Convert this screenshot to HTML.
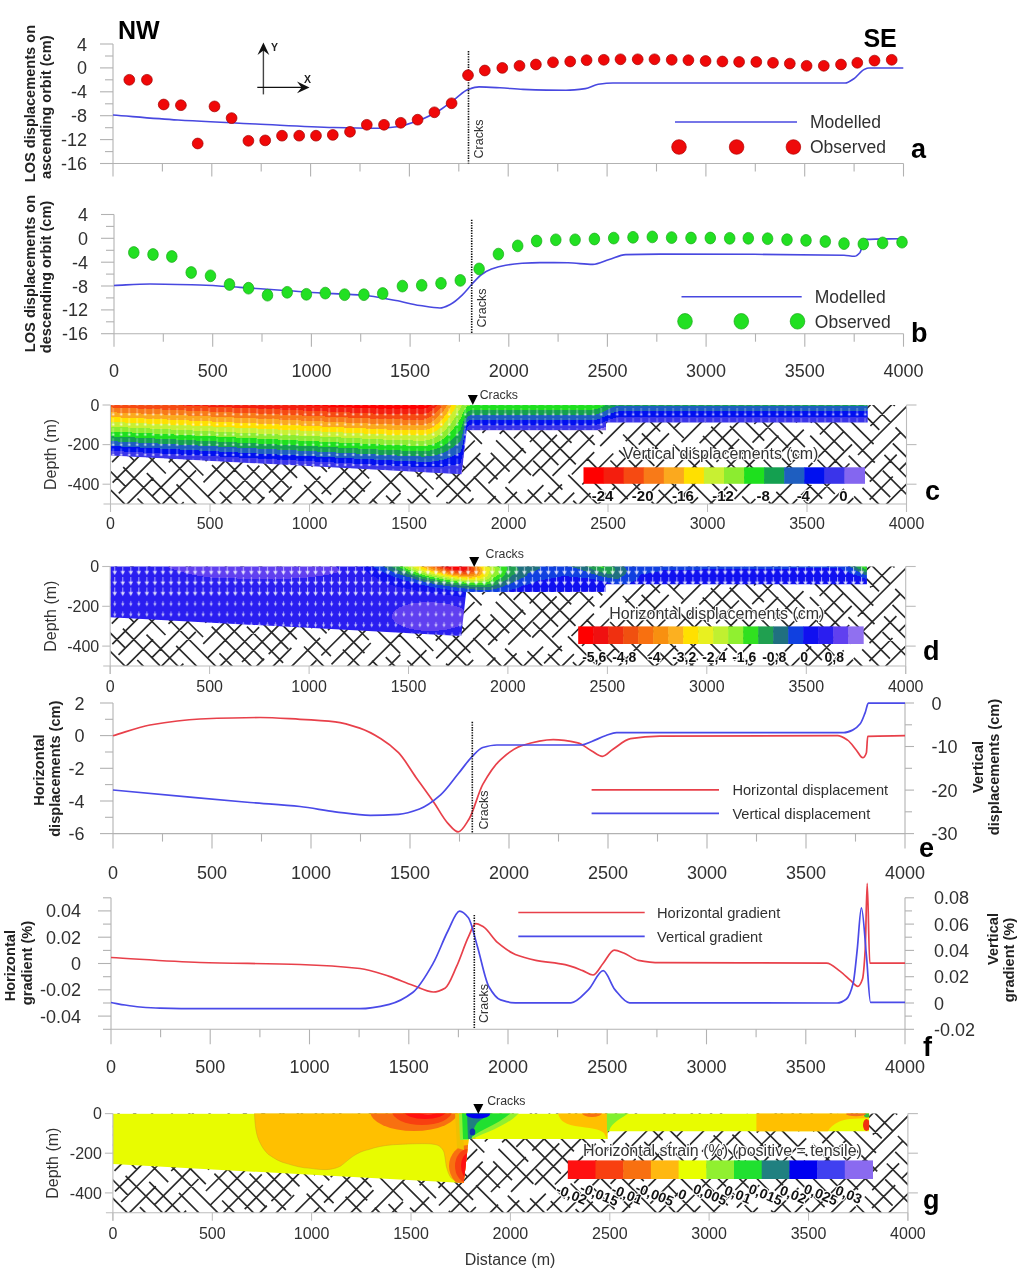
<!DOCTYPE html>
<html><head><meta charset="utf-8"><style>
html,body{margin:0;padding:0;background:#fff;}
svg{display:block;font-family:"Liberation Sans",sans-serif;filter:blur(0.4px);}
</style></head><body>
<svg width="1024" height="1278" viewBox="0 0 1024 1278">
<rect width="1024" height="1278" fill="#fff"/>
<line x1="113" y1="44" x2="113" y2="163.5" stroke="#b2b2b2" stroke-width="1.1" />
<line x1="100" y1="44" x2="113" y2="44" stroke="#b2b2b2" stroke-width="1.1" />
<text x="87" y="50.5" font-size="18" text-anchor="end" font-weight="normal" fill="#303030" >4</text>
<line x1="105" y1="56" x2="113" y2="56" stroke="#b2b2b2" stroke-width="1.1" />
<line x1="100" y1="67.9" x2="113" y2="67.9" stroke="#b2b2b2" stroke-width="1.1" />
<text x="87" y="74.4" font-size="18" text-anchor="end" font-weight="normal" fill="#303030" >0</text>
<line x1="105" y1="79.8" x2="113" y2="79.8" stroke="#b2b2b2" stroke-width="1.1" />
<line x1="100" y1="91.8" x2="113" y2="91.8" stroke="#b2b2b2" stroke-width="1.1" />
<text x="87" y="98.3" font-size="18" text-anchor="end" font-weight="normal" fill="#303030" >-4</text>
<line x1="105" y1="103.8" x2="113" y2="103.8" stroke="#b2b2b2" stroke-width="1.1" />
<line x1="100" y1="115.7" x2="113" y2="115.7" stroke="#b2b2b2" stroke-width="1.1" />
<text x="87" y="122.2" font-size="18" text-anchor="end" font-weight="normal" fill="#303030" >-8</text>
<line x1="105" y1="127.7" x2="113" y2="127.7" stroke="#b2b2b2" stroke-width="1.1" />
<line x1="100" y1="139.6" x2="113" y2="139.6" stroke="#b2b2b2" stroke-width="1.1" />
<text x="87" y="146.1" font-size="18" text-anchor="end" font-weight="normal" fill="#303030" >-12</text>
<line x1="105" y1="151.6" x2="113" y2="151.6" stroke="#b2b2b2" stroke-width="1.1" />
<line x1="100" y1="163.5" x2="113" y2="163.5" stroke="#b2b2b2" stroke-width="1.1" />
<text x="87" y="170" font-size="18" text-anchor="end" font-weight="normal" fill="#303030" >-16</text>
<line x1="113" y1="163.5" x2="903.5" y2="163.5" stroke="#b2b2b2" stroke-width="1.1" />
<line x1="113" y1="163.5" x2="113" y2="176.5" stroke="#b2b2b2" stroke-width="1.1" />
<line x1="162.4" y1="163.5" x2="162.4" y2="171.5" stroke="#b2b2b2" stroke-width="1.1" />
<line x1="211.8" y1="163.5" x2="211.8" y2="176.5" stroke="#b2b2b2" stroke-width="1.1" />
<line x1="261.2" y1="163.5" x2="261.2" y2="171.5" stroke="#b2b2b2" stroke-width="1.1" />
<line x1="310.6" y1="163.5" x2="310.6" y2="176.5" stroke="#b2b2b2" stroke-width="1.1" />
<line x1="360" y1="163.5" x2="360" y2="171.5" stroke="#b2b2b2" stroke-width="1.1" />
<line x1="409.4" y1="163.5" x2="409.4" y2="176.5" stroke="#b2b2b2" stroke-width="1.1" />
<line x1="458.8" y1="163.5" x2="458.8" y2="171.5" stroke="#b2b2b2" stroke-width="1.1" />
<line x1="508.2" y1="163.5" x2="508.2" y2="176.5" stroke="#b2b2b2" stroke-width="1.1" />
<line x1="557.7" y1="163.5" x2="557.7" y2="171.5" stroke="#b2b2b2" stroke-width="1.1" />
<line x1="607.1" y1="163.5" x2="607.1" y2="176.5" stroke="#b2b2b2" stroke-width="1.1" />
<line x1="656.5" y1="163.5" x2="656.5" y2="171.5" stroke="#b2b2b2" stroke-width="1.1" />
<line x1="705.9" y1="163.5" x2="705.9" y2="176.5" stroke="#b2b2b2" stroke-width="1.1" />
<line x1="755.3" y1="163.5" x2="755.3" y2="171.5" stroke="#b2b2b2" stroke-width="1.1" />
<line x1="804.7" y1="163.5" x2="804.7" y2="176.5" stroke="#b2b2b2" stroke-width="1.1" />
<line x1="854.1" y1="163.5" x2="854.1" y2="171.5" stroke="#b2b2b2" stroke-width="1.1" />
<line x1="903.5" y1="163.5" x2="903.5" y2="176.5" stroke="#b2b2b2" stroke-width="1.1" />
<g font-weight="bold" font-size="14.6" fill="#222">
<text transform="translate(35.2 103.6) rotate(-90)" font-size="14.6" font-weight="bold" text-anchor="middle" fill="#222" >LOS displacements on</text>
<text transform="translate(51.2 107.2) rotate(-90)" font-size="14.6" font-weight="bold" text-anchor="middle" fill="#222" >ascending orbit (cm)</text>
</g>
<text x="118" y="39" font-size="25" text-anchor="start" font-weight="bold" fill="#000" >NW</text>
<text x="863.4" y="47" font-size="25" text-anchor="start" font-weight="bold" fill="#000" >SE</text>
<line x1="263.4" y1="46" x2="263.4" y2="94.4" stroke="#444" stroke-width="1.4" />
<line x1="257.3" y1="87.4" x2="305" y2="87.4" stroke="#111" stroke-width="1.4" />
<path d="M257.5 55 L263.4 42.5 L269.3 55 L263.4 50.5 Z" fill="#111"/>
<path d="M297 81.5 L309.5 87.4 L297 93.3 L301.5 87.4 Z" fill="#111"/>
<text x="271" y="51" font-size="10.5" text-anchor="start" font-weight="bold" fill="#222" >Y</text>
<text x="304" y="82.5" font-size="10.5" text-anchor="start" font-weight="bold" fill="#222" >X</text>
<path d="M113 115 C134.7 116.7 156.3 118.7 178 120 C204 121.6 230 122.8 256 124 C282 125.2 308 126.8 334 127.5 C347 127.9 360 128.3 373 128.3 C381 128.3 389 127.6 397 126.7 C404.7 125.9 412.3 122.8 420 120 C426.7 117.5 433.3 114 440 110 C445.2 106.9 450.3 102.4 455.5 98.6 C459.7 95.6 463.8 91.1 468 89.6 C471.7 88.3 475.3 86.9 479 86.9 C486 86.9 493 87.4 500 87.8 C507.7 88.2 515.3 89.1 523 89.4 C537.3 89.9 551.7 90.3 566 90.3 C572.4 90.3 578.9 89.5 585.3 88.6 C589.6 88 593.9 84.9 598.2 84.3 C603.1 83.6 608.1 83 613 83 C690.4 83 767.9 83 845.3 83 C848.2 83 851 80.5 853.9 78.7 C857.5 76.4 861 70.6 864.6 69.2 C866 68.6 867.5 68 868.9 68 C880.4 68 891.8 68 903.3 68" fill="none" stroke="#4848e0" stroke-width="1.6" stroke-linejoin="round"/>
<line x1="468.5" y1="51" x2="468.5" y2="163.5" stroke="#111" stroke-width="1.6" stroke-dasharray="1.4 1.2"/>
<text transform="translate(482.5 139) rotate(-90)" font-size="12.5" font-weight="normal" text-anchor="middle" fill="#333" >Cracks</text>
<circle cx="129.3" cy="79.8" r="5.4" fill="#f00808" stroke="#a00000" stroke-width="0.7"/>
<circle cx="146.9" cy="79.8" r="5.4" fill="#f00808" stroke="#a00000" stroke-width="0.7"/>
<circle cx="163.7" cy="104.5" r="5.4" fill="#f00808" stroke="#a00000" stroke-width="0.7"/>
<circle cx="180.9" cy="105.2" r="5.4" fill="#f00808" stroke="#a00000" stroke-width="0.7"/>
<circle cx="197.7" cy="143.5" r="5.4" fill="#f00808" stroke="#a00000" stroke-width="0.7"/>
<circle cx="214.5" cy="106.4" r="5.4" fill="#f00808" stroke="#a00000" stroke-width="0.7"/>
<circle cx="231.6" cy="118.1" r="5.4" fill="#f00808" stroke="#a00000" stroke-width="0.7"/>
<circle cx="248.4" cy="140.8" r="5.4" fill="#f00808" stroke="#a00000" stroke-width="0.7"/>
<circle cx="265.2" cy="140.4" r="5.4" fill="#f00808" stroke="#a00000" stroke-width="0.7"/>
<circle cx="282" cy="135.7" r="5.4" fill="#f00808" stroke="#a00000" stroke-width="0.7"/>
<circle cx="299.2" cy="135.7" r="5.4" fill="#f00808" stroke="#a00000" stroke-width="0.7"/>
<circle cx="316" cy="135.7" r="5.4" fill="#f00808" stroke="#a00000" stroke-width="0.7"/>
<circle cx="332.8" cy="134.9" r="5.4" fill="#f00808" stroke="#a00000" stroke-width="0.7"/>
<circle cx="350" cy="131.8" r="5.4" fill="#f00808" stroke="#a00000" stroke-width="0.7"/>
<circle cx="366.8" cy="124.8" r="5.4" fill="#f00808" stroke="#a00000" stroke-width="0.7"/>
<circle cx="384" cy="124.8" r="5.4" fill="#f00808" stroke="#a00000" stroke-width="0.7"/>
<circle cx="400.8" cy="122.8" r="5.4" fill="#f00808" stroke="#a00000" stroke-width="0.7"/>
<circle cx="417.6" cy="119.7" r="5.4" fill="#f00808" stroke="#a00000" stroke-width="0.7"/>
<circle cx="434.4" cy="112.3" r="5.4" fill="#f00808" stroke="#a00000" stroke-width="0.7"/>
<circle cx="451.6" cy="103.3" r="5.4" fill="#f00808" stroke="#a00000" stroke-width="0.7"/>
<circle cx="468" cy="75.2" r="5.4" fill="#f00808" stroke="#a00000" stroke-width="0.7"/>
<circle cx="484.8" cy="70.5" r="5.4" fill="#f00808" stroke="#a00000" stroke-width="0.7"/>
<circle cx="502.3" cy="67.9" r="5.4" fill="#f00808" stroke="#a00000" stroke-width="0.7"/>
<circle cx="519.5" cy="65.8" r="5.4" fill="#f00808" stroke="#a00000" stroke-width="0.7"/>
<circle cx="535.9" cy="64.5" r="5.4" fill="#f00808" stroke="#a00000" stroke-width="0.7"/>
<circle cx="553" cy="62.3" r="5.4" fill="#f00808" stroke="#a00000" stroke-width="0.7"/>
<circle cx="570.2" cy="61.5" r="5.4" fill="#f00808" stroke="#a00000" stroke-width="0.7"/>
<circle cx="586.6" cy="60.2" r="5.4" fill="#f00808" stroke="#a00000" stroke-width="0.7"/>
<circle cx="603.8" cy="59.8" r="5.4" fill="#f00808" stroke="#a00000" stroke-width="0.7"/>
<circle cx="620.5" cy="59.3" r="5.4" fill="#f00808" stroke="#a00000" stroke-width="0.7"/>
<circle cx="637.7" cy="59.3" r="5.4" fill="#f00808" stroke="#a00000" stroke-width="0.7"/>
<circle cx="654.5" cy="59.3" r="5.4" fill="#f00808" stroke="#a00000" stroke-width="0.7"/>
<circle cx="671.7" cy="59.8" r="5.4" fill="#f00808" stroke="#a00000" stroke-width="0.7"/>
<circle cx="688.4" cy="60.2" r="5.4" fill="#f00808" stroke="#a00000" stroke-width="0.7"/>
<circle cx="705.6" cy="61" r="5.4" fill="#f00808" stroke="#a00000" stroke-width="0.7"/>
<circle cx="722.4" cy="61.5" r="5.4" fill="#f00808" stroke="#a00000" stroke-width="0.7"/>
<circle cx="739.1" cy="61.9" r="5.4" fill="#f00808" stroke="#a00000" stroke-width="0.7"/>
<circle cx="756.3" cy="61.9" r="5.4" fill="#f00808" stroke="#a00000" stroke-width="0.7"/>
<circle cx="773" cy="62.8" r="5.4" fill="#f00808" stroke="#a00000" stroke-width="0.7"/>
<circle cx="789.8" cy="63.6" r="5.4" fill="#f00808" stroke="#a00000" stroke-width="0.7"/>
<circle cx="806.6" cy="65.8" r="5.4" fill="#f00808" stroke="#a00000" stroke-width="0.7"/>
<circle cx="823.8" cy="65.8" r="5.4" fill="#f00808" stroke="#a00000" stroke-width="0.7"/>
<circle cx="841" cy="64.5" r="5.4" fill="#f00808" stroke="#a00000" stroke-width="0.7"/>
<circle cx="857.3" cy="62.8" r="5.4" fill="#f00808" stroke="#a00000" stroke-width="0.7"/>
<circle cx="874.5" cy="60.6" r="5.4" fill="#f00808" stroke="#a00000" stroke-width="0.7"/>
<circle cx="891.7" cy="59.8" r="5.4" fill="#f00808" stroke="#a00000" stroke-width="0.7"/>
<line x1="675" y1="122" x2="797" y2="122" stroke="#4848e0" stroke-width="1.6" />
<text x="810" y="128.3" font-size="17.5" text-anchor="start" font-weight="normal" fill="#303030" >Modelled</text>
<circle cx="679" cy="147" r="7.3" fill="#ee0a0a" stroke="#b00000" stroke-width="0.7"/>
<circle cx="736.6" cy="147" r="7.3" fill="#ee0a0a" stroke="#b00000" stroke-width="0.7"/>
<circle cx="793.4" cy="147" r="7.3" fill="#ee0a0a" stroke="#b00000" stroke-width="0.7"/>
<text x="810" y="153.3" font-size="17.5" text-anchor="start" font-weight="normal" fill="#303030" >Observed</text>
<text x="911" y="157.5" font-size="27" text-anchor="start" font-weight="bold" fill="#000" >a</text>
<line x1="114" y1="214.5" x2="114" y2="333.7" stroke="#b2b2b2" stroke-width="1.1" />
<line x1="101" y1="214.5" x2="114" y2="214.5" stroke="#b2b2b2" stroke-width="1.1" />
<text x="88" y="221" font-size="18" text-anchor="end" font-weight="normal" fill="#303030" >4</text>
<line x1="106" y1="226.4" x2="114" y2="226.4" stroke="#b2b2b2" stroke-width="1.1" />
<line x1="101" y1="238.3" x2="114" y2="238.3" stroke="#b2b2b2" stroke-width="1.1" />
<text x="88" y="244.8" font-size="18" text-anchor="end" font-weight="normal" fill="#303030" >0</text>
<line x1="106" y1="250.3" x2="114" y2="250.3" stroke="#b2b2b2" stroke-width="1.1" />
<line x1="101" y1="262.2" x2="114" y2="262.2" stroke="#b2b2b2" stroke-width="1.1" />
<text x="88" y="268.7" font-size="18" text-anchor="end" font-weight="normal" fill="#303030" >-4</text>
<line x1="106" y1="274.1" x2="114" y2="274.1" stroke="#b2b2b2" stroke-width="1.1" />
<line x1="101" y1="286" x2="114" y2="286" stroke="#b2b2b2" stroke-width="1.1" />
<text x="88" y="292.5" font-size="18" text-anchor="end" font-weight="normal" fill="#303030" >-8</text>
<line x1="106" y1="297.9" x2="114" y2="297.9" stroke="#b2b2b2" stroke-width="1.1" />
<line x1="101" y1="309.9" x2="114" y2="309.9" stroke="#b2b2b2" stroke-width="1.1" />
<text x="88" y="316.4" font-size="18" text-anchor="end" font-weight="normal" fill="#303030" >-12</text>
<line x1="106" y1="321.8" x2="114" y2="321.8" stroke="#b2b2b2" stroke-width="1.1" />
<line x1="101" y1="333.7" x2="114" y2="333.7" stroke="#b2b2b2" stroke-width="1.1" />
<text x="88" y="340.2" font-size="18" text-anchor="end" font-weight="normal" fill="#303030" >-16</text>
<line x1="114" y1="333.7" x2="903.5" y2="333.7" stroke="#b2b2b2" stroke-width="1.1" />
<line x1="114" y1="333.7" x2="114" y2="346.7" stroke="#b2b2b2" stroke-width="1.1" />
<text x="114" y="377" font-size="18" text-anchor="middle" font-weight="normal" fill="#303030" >0</text>
<line x1="163.3" y1="333.7" x2="163.3" y2="341.7" stroke="#b2b2b2" stroke-width="1.1" />
<line x1="212.7" y1="333.7" x2="212.7" y2="346.7" stroke="#b2b2b2" stroke-width="1.1" />
<text x="212.7" y="377" font-size="18" text-anchor="middle" font-weight="normal" fill="#303030" >500</text>
<line x1="262" y1="333.7" x2="262" y2="341.7" stroke="#b2b2b2" stroke-width="1.1" />
<line x1="311.4" y1="333.7" x2="311.4" y2="346.7" stroke="#b2b2b2" stroke-width="1.1" />
<text x="311.4" y="377" font-size="18" text-anchor="middle" font-weight="normal" fill="#303030" >1000</text>
<line x1="360.7" y1="333.7" x2="360.7" y2="341.7" stroke="#b2b2b2" stroke-width="1.1" />
<line x1="410.1" y1="333.7" x2="410.1" y2="346.7" stroke="#b2b2b2" stroke-width="1.1" />
<text x="410.1" y="377" font-size="18" text-anchor="middle" font-weight="normal" fill="#303030" >1500</text>
<line x1="459.4" y1="333.7" x2="459.4" y2="341.7" stroke="#b2b2b2" stroke-width="1.1" />
<line x1="508.8" y1="333.7" x2="508.8" y2="346.7" stroke="#b2b2b2" stroke-width="1.1" />
<text x="508.8" y="377" font-size="18" text-anchor="middle" font-weight="normal" fill="#303030" >2000</text>
<line x1="558.1" y1="333.7" x2="558.1" y2="341.7" stroke="#b2b2b2" stroke-width="1.1" />
<line x1="607.4" y1="333.7" x2="607.4" y2="346.7" stroke="#b2b2b2" stroke-width="1.1" />
<text x="607.4" y="377" font-size="18" text-anchor="middle" font-weight="normal" fill="#303030" >2500</text>
<line x1="656.8" y1="333.7" x2="656.8" y2="341.7" stroke="#b2b2b2" stroke-width="1.1" />
<line x1="706.1" y1="333.7" x2="706.1" y2="346.7" stroke="#b2b2b2" stroke-width="1.1" />
<text x="706.1" y="377" font-size="18" text-anchor="middle" font-weight="normal" fill="#303030" >3000</text>
<line x1="755.5" y1="333.7" x2="755.5" y2="341.7" stroke="#b2b2b2" stroke-width="1.1" />
<line x1="804.8" y1="333.7" x2="804.8" y2="346.7" stroke="#b2b2b2" stroke-width="1.1" />
<text x="804.8" y="377" font-size="18" text-anchor="middle" font-weight="normal" fill="#303030" >3500</text>
<line x1="854.2" y1="333.7" x2="854.2" y2="341.7" stroke="#b2b2b2" stroke-width="1.1" />
<line x1="903.5" y1="333.7" x2="903.5" y2="346.7" stroke="#b2b2b2" stroke-width="1.1" />
<text x="903.5" y="377" font-size="18" text-anchor="middle" font-weight="normal" fill="#303030" >4000</text>
<text transform="translate(35.2 273.5) rotate(-90)" font-size="14.6" font-weight="bold" text-anchor="middle" fill="#222" >LOS displacements on</text>
<text transform="translate(51.2 277) rotate(-90)" font-size="14.6" font-weight="bold" text-anchor="middle" fill="#222" >descending orbit (cm)</text>
<path d="M114 285.5 C126 285 138 284 150 284 C166.7 284 183.3 284.5 200 285 C213.3 285.4 226.7 286.5 240 287.4 C253.7 288.3 267.3 289.3 281 290.2 C294.7 291.1 308.3 292.3 322 293.1 C335.7 293.9 349.3 294.1 363 295.2 C374 296.1 384.9 298.5 395.9 300.5 C403.9 302 412 304.3 420 305.5 C426.7 306.5 433.3 308 440 308 C443.7 308 447.3 305.8 451 304 C454.6 302.2 458.3 298.7 461.9 295.3 C465.2 292.2 468.5 287.8 471.8 284.3 C475.1 280.9 478.3 276.8 481.6 274.5 C484.9 272.1 488.2 270.2 491.5 269 C496.2 267.3 501 266 505.7 265.2 C511.2 264.3 516.6 263.6 522.1 263.3 C528.1 262.9 534 262.6 540 262.6 C549.3 262.6 558.7 262.7 568 262.8 C576.3 262.9 584.5 264.4 592.8 264.4 C598.3 264.4 603.7 261.1 609.2 259.5 C614.7 257.9 620.1 254.8 625.6 254.6 C637.1 254.2 648.5 254.1 660 254.1 C721.3 254.1 782.7 254.3 844 255.2 C847.5 255.3 851 256.3 854.5 256.3 C856.3 256.3 858 254.6 859.8 252.7 C861.5 250.8 863.3 239.5 865 239.4 C876.7 238.8 888.5 238.9 900.2 238.7" fill="none" stroke="#4848e0" stroke-width="1.6" stroke-linejoin="round"/>
<line x1="471.7" y1="219.7" x2="471.7" y2="333.7" stroke="#111" stroke-width="1.6" stroke-dasharray="1.4 1.2"/>
<text transform="translate(485.5 308) rotate(-90)" font-size="12.5" font-weight="normal" text-anchor="middle" fill="#333" >Cracks</text>
<ellipse cx="133.8" cy="252.5" rx="5.3" ry="5.9" fill="#22e022" stroke="#19a819" stroke-width="0.7"/>
<ellipse cx="153" cy="254.5" rx="5.3" ry="5.9" fill="#22e022" stroke="#19a819" stroke-width="0.7"/>
<ellipse cx="171.8" cy="256.5" rx="5.3" ry="5.9" fill="#22e022" stroke="#19a819" stroke-width="0.7"/>
<ellipse cx="191.2" cy="272.5" rx="5.3" ry="5.9" fill="#22e022" stroke="#19a819" stroke-width="0.7"/>
<ellipse cx="210.5" cy="275.8" rx="5.3" ry="5.9" fill="#22e022" stroke="#19a819" stroke-width="0.7"/>
<ellipse cx="229.5" cy="284.5" rx="5.3" ry="5.9" fill="#22e022" stroke="#19a819" stroke-width="0.7"/>
<ellipse cx="248.5" cy="288.2" rx="5.3" ry="5.9" fill="#22e022" stroke="#19a819" stroke-width="0.7"/>
<ellipse cx="267.5" cy="295.2" rx="5.3" ry="5.9" fill="#22e022" stroke="#19a819" stroke-width="0.7"/>
<ellipse cx="287.2" cy="292.3" rx="5.3" ry="5.9" fill="#22e022" stroke="#19a819" stroke-width="0.7"/>
<ellipse cx="306.4" cy="294.3" rx="5.3" ry="5.9" fill="#22e022" stroke="#19a819" stroke-width="0.7"/>
<ellipse cx="325.3" cy="293.1" rx="5.3" ry="5.9" fill="#22e022" stroke="#19a819" stroke-width="0.7"/>
<ellipse cx="344.6" cy="294.7" rx="5.3" ry="5.9" fill="#22e022" stroke="#19a819" stroke-width="0.7"/>
<ellipse cx="363.9" cy="294.7" rx="5.3" ry="5.9" fill="#22e022" stroke="#19a819" stroke-width="0.7"/>
<ellipse cx="382.7" cy="293.5" rx="5.3" ry="5.9" fill="#22e022" stroke="#19a819" stroke-width="0.7"/>
<ellipse cx="402.4" cy="286.1" rx="5.3" ry="5.9" fill="#22e022" stroke="#19a819" stroke-width="0.7"/>
<ellipse cx="421.7" cy="285.3" rx="5.3" ry="5.9" fill="#22e022" stroke="#19a819" stroke-width="0.7"/>
<ellipse cx="441" cy="283.3" rx="5.3" ry="5.9" fill="#22e022" stroke="#19a819" stroke-width="0.7"/>
<ellipse cx="460.3" cy="280.4" rx="5.3" ry="5.9" fill="#22e022" stroke="#19a819" stroke-width="0.7"/>
<ellipse cx="479.1" cy="268.9" rx="5.3" ry="5.9" fill="#22e022" stroke="#19a819" stroke-width="0.7"/>
<ellipse cx="498.4" cy="254.1" rx="5.3" ry="5.9" fill="#22e022" stroke="#19a819" stroke-width="0.7"/>
<ellipse cx="517.7" cy="245.9" rx="5.3" ry="5.9" fill="#22e022" stroke="#19a819" stroke-width="0.7"/>
<ellipse cx="536.6" cy="241" rx="5.3" ry="5.9" fill="#22e022" stroke="#19a819" stroke-width="0.7"/>
<ellipse cx="555.8" cy="239.8" rx="5.3" ry="5.9" fill="#22e022" stroke="#19a819" stroke-width="0.7"/>
<ellipse cx="575.1" cy="239.8" rx="5.3" ry="5.9" fill="#22e022" stroke="#19a819" stroke-width="0.7"/>
<ellipse cx="594.4" cy="239" rx="5.3" ry="5.9" fill="#22e022" stroke="#19a819" stroke-width="0.7"/>
<ellipse cx="613.7" cy="238.1" rx="5.3" ry="5.9" fill="#22e022" stroke="#19a819" stroke-width="0.7"/>
<ellipse cx="633" cy="237.3" rx="5.3" ry="5.9" fill="#22e022" stroke="#19a819" stroke-width="0.7"/>
<ellipse cx="652.3" cy="236.9" rx="5.3" ry="5.9" fill="#22e022" stroke="#19a819" stroke-width="0.7"/>
<ellipse cx="671.6" cy="237.6" rx="5.3" ry="5.9" fill="#22e022" stroke="#19a819" stroke-width="0.7"/>
<ellipse cx="691" cy="238" rx="5.3" ry="5.9" fill="#22e022" stroke="#19a819" stroke-width="0.7"/>
<ellipse cx="710.3" cy="238" rx="5.3" ry="5.9" fill="#22e022" stroke="#19a819" stroke-width="0.7"/>
<ellipse cx="729.7" cy="238.3" rx="5.3" ry="5.9" fill="#22e022" stroke="#19a819" stroke-width="0.7"/>
<ellipse cx="748.3" cy="238.3" rx="5.3" ry="5.9" fill="#22e022" stroke="#19a819" stroke-width="0.7"/>
<ellipse cx="767.6" cy="238.7" rx="5.3" ry="5.9" fill="#22e022" stroke="#19a819" stroke-width="0.7"/>
<ellipse cx="787" cy="239.7" rx="5.3" ry="5.9" fill="#22e022" stroke="#19a819" stroke-width="0.7"/>
<ellipse cx="806" cy="240.4" rx="5.3" ry="5.9" fill="#22e022" stroke="#19a819" stroke-width="0.7"/>
<ellipse cx="825.3" cy="241.5" rx="5.3" ry="5.9" fill="#22e022" stroke="#19a819" stroke-width="0.7"/>
<ellipse cx="844" cy="243.6" rx="5.3" ry="5.9" fill="#22e022" stroke="#19a819" stroke-width="0.7"/>
<ellipse cx="863.3" cy="244" rx="5.3" ry="5.9" fill="#22e022" stroke="#19a819" stroke-width="0.7"/>
<ellipse cx="882.6" cy="242.9" rx="5.3" ry="5.9" fill="#22e022" stroke="#19a819" stroke-width="0.7"/>
<ellipse cx="902" cy="242.2" rx="5.3" ry="5.9" fill="#22e022" stroke="#19a819" stroke-width="0.7"/>
<line x1="681.5" y1="296.7" x2="801.7" y2="296.7" stroke="#4848e0" stroke-width="1.6" />
<text x="814.8" y="303" font-size="17.5" text-anchor="start" font-weight="normal" fill="#303030" >Modelled</text>
<ellipse cx="685" cy="321.3" rx="7.3" ry="7.8" fill="#22e022" stroke="#19a819" stroke-width="0.7"/>
<ellipse cx="741.3" cy="321.3" rx="7.3" ry="7.8" fill="#22e022" stroke="#19a819" stroke-width="0.7"/>
<ellipse cx="797.5" cy="321.3" rx="7.3" ry="7.8" fill="#22e022" stroke="#19a819" stroke-width="0.7"/>
<text x="814.8" y="327.6" font-size="17.5" text-anchor="start" font-weight="normal" fill="#303030" >Observed</text>
<text x="911" y="342" font-size="27" text-anchor="start" font-weight="bold" fill="#000" >b</text>
<line x1="113" y1="703" x2="113" y2="833.6" stroke="#b2b2b2" stroke-width="1.1" />
<line x1="100" y1="703" x2="113" y2="703" stroke="#b2b2b2" stroke-width="1.1" />
<text x="84.5" y="709.5" font-size="18" text-anchor="end" font-weight="normal" fill="#303030" >2</text>
<line x1="105" y1="719.3" x2="113" y2="719.3" stroke="#b2b2b2" stroke-width="1.1" />
<line x1="100" y1="735.6" x2="113" y2="735.6" stroke="#b2b2b2" stroke-width="1.1" />
<text x="84.5" y="742.1" font-size="18" text-anchor="end" font-weight="normal" fill="#303030" >0</text>
<line x1="105" y1="752" x2="113" y2="752" stroke="#b2b2b2" stroke-width="1.1" />
<line x1="100" y1="768.3" x2="113" y2="768.3" stroke="#b2b2b2" stroke-width="1.1" />
<text x="84.5" y="774.8" font-size="18" text-anchor="end" font-weight="normal" fill="#303030" >-2</text>
<line x1="105" y1="784.6" x2="113" y2="784.6" stroke="#b2b2b2" stroke-width="1.1" />
<line x1="100" y1="801" x2="113" y2="801" stroke="#b2b2b2" stroke-width="1.1" />
<text x="84.5" y="807.5" font-size="18" text-anchor="end" font-weight="normal" fill="#303030" >-4</text>
<line x1="105" y1="817.3" x2="113" y2="817.3" stroke="#b2b2b2" stroke-width="1.1" />
<line x1="100" y1="833.6" x2="113" y2="833.6" stroke="#b2b2b2" stroke-width="1.1" />
<text x="84.5" y="840.1" font-size="18" text-anchor="end" font-weight="normal" fill="#303030" >-6</text>
<line x1="905" y1="703" x2="905" y2="833.6" stroke="#b2b2b2" stroke-width="1.1" />
<line x1="905" y1="703" x2="914" y2="703" stroke="#b2b2b2" stroke-width="1.1" />
<text x="931.6" y="709.5" font-size="18" text-anchor="start" font-weight="normal" fill="#303030" >0</text>
<line x1="905" y1="724.8" x2="912" y2="724.8" stroke="#b2b2b2" stroke-width="1.1" />
<line x1="905" y1="746.5" x2="914" y2="746.5" stroke="#b2b2b2" stroke-width="1.1" />
<text x="931.6" y="753" font-size="18" text-anchor="start" font-weight="normal" fill="#303030" >-10</text>
<line x1="905" y1="768.3" x2="912" y2="768.3" stroke="#b2b2b2" stroke-width="1.1" />
<line x1="905" y1="790.1" x2="914" y2="790.1" stroke="#b2b2b2" stroke-width="1.1" />
<text x="931.6" y="796.6" font-size="18" text-anchor="start" font-weight="normal" fill="#303030" >-20</text>
<line x1="905" y1="811.8" x2="912" y2="811.8" stroke="#b2b2b2" stroke-width="1.1" />
<line x1="905" y1="833.6" x2="914" y2="833.6" stroke="#b2b2b2" stroke-width="1.1" />
<text x="931.6" y="840.1" font-size="18" text-anchor="start" font-weight="normal" fill="#303030" >-30</text>
<line x1="113" y1="833.6" x2="905" y2="833.6" stroke="#b2b2b2" stroke-width="1.1" />
<line x1="113" y1="833.6" x2="113" y2="848.6" stroke="#b2b2b2" stroke-width="1.1" />
<text x="113" y="879" font-size="18" text-anchor="middle" font-weight="normal" fill="#303030" >0</text>
<line x1="162.5" y1="833.6" x2="162.5" y2="841.6" stroke="#b2b2b2" stroke-width="1.1" />
<line x1="212" y1="833.6" x2="212" y2="848.6" stroke="#b2b2b2" stroke-width="1.1" />
<text x="212" y="879" font-size="18" text-anchor="middle" font-weight="normal" fill="#303030" >500</text>
<line x1="261.5" y1="833.6" x2="261.5" y2="841.6" stroke="#b2b2b2" stroke-width="1.1" />
<line x1="311" y1="833.6" x2="311" y2="848.6" stroke="#b2b2b2" stroke-width="1.1" />
<text x="311" y="879" font-size="18" text-anchor="middle" font-weight="normal" fill="#303030" >1000</text>
<line x1="360.5" y1="833.6" x2="360.5" y2="841.6" stroke="#b2b2b2" stroke-width="1.1" />
<line x1="410" y1="833.6" x2="410" y2="848.6" stroke="#b2b2b2" stroke-width="1.1" />
<text x="410" y="879" font-size="18" text-anchor="middle" font-weight="normal" fill="#303030" >1500</text>
<line x1="459.5" y1="833.6" x2="459.5" y2="841.6" stroke="#b2b2b2" stroke-width="1.1" />
<line x1="509" y1="833.6" x2="509" y2="848.6" stroke="#b2b2b2" stroke-width="1.1" />
<text x="509" y="879" font-size="18" text-anchor="middle" font-weight="normal" fill="#303030" >2000</text>
<line x1="558.5" y1="833.6" x2="558.5" y2="841.6" stroke="#b2b2b2" stroke-width="1.1" />
<line x1="608" y1="833.6" x2="608" y2="848.6" stroke="#b2b2b2" stroke-width="1.1" />
<text x="608" y="879" font-size="18" text-anchor="middle" font-weight="normal" fill="#303030" >2500</text>
<line x1="657.5" y1="833.6" x2="657.5" y2="841.6" stroke="#b2b2b2" stroke-width="1.1" />
<line x1="707" y1="833.6" x2="707" y2="848.6" stroke="#b2b2b2" stroke-width="1.1" />
<text x="707" y="879" font-size="18" text-anchor="middle" font-weight="normal" fill="#303030" >3000</text>
<line x1="756.5" y1="833.6" x2="756.5" y2="841.6" stroke="#b2b2b2" stroke-width="1.1" />
<line x1="806" y1="833.6" x2="806" y2="848.6" stroke="#b2b2b2" stroke-width="1.1" />
<text x="806" y="879" font-size="18" text-anchor="middle" font-weight="normal" fill="#303030" >3500</text>
<line x1="855.5" y1="833.6" x2="855.5" y2="841.6" stroke="#b2b2b2" stroke-width="1.1" />
<line x1="905" y1="833.6" x2="905" y2="848.6" stroke="#b2b2b2" stroke-width="1.1" />
<text x="905" y="879" font-size="18" text-anchor="middle" font-weight="normal" fill="#303030" >4000</text>
<text transform="translate(44 770) rotate(-90)" font-size="14.6" font-weight="bold" text-anchor="middle" fill="#222" >Horizontal</text>
<text transform="translate(59.5 768.7) rotate(-90)" font-size="14.6" font-weight="bold" text-anchor="middle" fill="#222" >displacements (cm)</text>
<text transform="translate(983 767) rotate(-90)" font-size="14.6" font-weight="bold" text-anchor="middle" fill="#222" >Vertical</text>
<text transform="translate(999 767) rotate(-90)" font-size="14.6" font-weight="bold" text-anchor="middle" fill="#222" >displacements (cm)</text>
<path d="M113 735.8 C125.3 732.2 137.7 727.1 150 725 C166.7 722.1 183.3 719.7 200 719 C220 718.2 240 717.5 260 717.5 C273.3 717.5 286.7 718.6 300 719.3 C311.7 719.9 323.5 720.5 335.2 721.8 C343.4 722.7 351.6 725.3 359.8 728.1 C366.8 730.5 373.9 734.3 380.9 738.7 C386.8 742.3 392.6 746.7 398.5 752.7 C404.3 758.6 410.2 769.2 416 777.4 C421.9 785.6 427.7 793.5 433.6 802 C438.3 808.8 443 818.1 447.7 823.1 C451.2 826.8 454.7 831.9 458.2 831.9 C461.7 831.9 465.3 825 468.8 819.5 C473.5 812.2 478.1 792.9 482.8 784.4 C488.7 773.8 494.5 765.2 500.4 759.8 C507.4 753.4 514.5 747.9 521.5 745.7 C532.1 742.5 542.6 739.7 553.2 739.7 C561.4 739.7 569.6 741.1 577.8 742.9 C582.5 744 587.1 748.5 591.8 751 C595.3 752.9 598.9 756.3 602.4 756.3 C605.9 756.3 609.5 751.4 613 749.2 C618.8 745.5 624.7 739.6 630.5 738.7 C640.3 737.1 650.2 736.3 660 736.2 C719.2 735.8 778.4 735.7 837.6 735.7 C840.9 735.7 844.3 738 847.6 740.1 C850.5 742 853.5 746.8 856.4 750.2 C858.5 752.7 860.6 757.7 862.7 757.7 C863.9 757.7 865.2 756.2 866.4 752.7 C866.8 751.5 867.3 736.4 867.7 736.4 C880.1 735.7 892.6 735.9 905 735.7" fill="none" stroke="#e8404a" stroke-width="1.7" stroke-linejoin="round"/>
<path d="M113 790 C158.7 794.2 204.3 798.6 250 802.5 C266.7 803.9 283.3 804.7 300 806.5 C311.7 807.7 323.5 810.4 335.2 811.8 C346.9 813.2 358.6 815.3 370.3 815.3 C379.7 815.3 389.1 814.9 398.5 814.3 C405.5 813.8 412.5 811.6 419.5 809 C426.5 806.4 433.6 801 440.6 794.9 C446.5 789.8 452.3 781 458.2 773.8 C462.9 768.1 467.6 761 472.3 756.3 C475.8 752.8 479.3 748.6 482.8 747.5 C487.5 746.1 492.2 745 496.9 745 C525 745 553.2 745 581.3 745 C584.8 745 588.3 742.8 591.8 741.5 C596.5 739.7 601.3 737 606 735.5 C609.5 734.4 613 732.7 616.5 732.7 C631 732.6 645.5 732.6 660 732.6 C721.3 732.6 782.6 732.6 843.9 732.6 C846.8 732.6 849.7 731.4 852.6 730.1 C855.1 729 857.7 727 860.2 723.8 C861.9 721.7 863.5 716.9 865.2 712.6 C866.2 709.9 867.3 703.2 868.3 703.2 C880.5 703.2 892.8 703.2 905 703.2" fill="none" stroke="#4a4ae8" stroke-width="1.7" stroke-linejoin="round"/>
<line x1="472.3" y1="721.8" x2="472.3" y2="833.6" stroke="#111" stroke-width="1.6" stroke-dasharray="1.4 1.2"/>
<text transform="translate(487.5 810) rotate(-90)" font-size="12.5" font-weight="normal" text-anchor="middle" fill="#333" >Cracks</text>
<line x1="591.6" y1="789.9" x2="719" y2="789.9" stroke="#e8404a" stroke-width="1.7" />
<text x="732.4" y="795.2" font-size="14.6" text-anchor="start" font-weight="normal" fill="#303030" >Horizontal displacement</text>
<line x1="591.6" y1="813.3" x2="719" y2="813.3" stroke="#4a4ae8" stroke-width="1.7" />
<text x="732.4" y="818.6" font-size="14.6" text-anchor="start" font-weight="normal" fill="#303030" >Vertical displacement</text>
<text x="919" y="857.4" font-size="27" text-anchor="start" font-weight="bold" fill="#000" >e</text>
<line x1="111" y1="897.8" x2="111" y2="1029.3" stroke="#b2b2b2" stroke-width="1.1" />
<line x1="103" y1="897.8" x2="111" y2="897.8" stroke="#b2b2b2" stroke-width="1.1" />
<line x1="98" y1="910.9" x2="111" y2="910.9" stroke="#b2b2b2" stroke-width="1.1" />
<text x="81" y="917.4" font-size="18" text-anchor="end" font-weight="normal" fill="#303030" >0.04</text>
<line x1="103" y1="924.1" x2="111" y2="924.1" stroke="#b2b2b2" stroke-width="1.1" />
<line x1="98" y1="937.2" x2="111" y2="937.2" stroke="#b2b2b2" stroke-width="1.1" />
<text x="81" y="943.8" font-size="18" text-anchor="end" font-weight="normal" fill="#303030" >0.02</text>
<line x1="103" y1="950.4" x2="111" y2="950.4" stroke="#b2b2b2" stroke-width="1.1" />
<line x1="98" y1="963.5" x2="111" y2="963.5" stroke="#b2b2b2" stroke-width="1.1" />
<text x="81" y="970" font-size="18" text-anchor="end" font-weight="normal" fill="#303030" >0</text>
<line x1="103" y1="976.7" x2="111" y2="976.7" stroke="#b2b2b2" stroke-width="1.1" />
<line x1="98" y1="989.8" x2="111" y2="989.8" stroke="#b2b2b2" stroke-width="1.1" />
<text x="81" y="996.3" font-size="18" text-anchor="end" font-weight="normal" fill="#303030" >-0.02</text>
<line x1="103" y1="1003" x2="111" y2="1003" stroke="#b2b2b2" stroke-width="1.1" />
<line x1="98" y1="1016.1" x2="111" y2="1016.1" stroke="#b2b2b2" stroke-width="1.1" />
<text x="81" y="1022.6" font-size="18" text-anchor="end" font-weight="normal" fill="#303030" >-0.04</text>
<line x1="103" y1="1029.3" x2="111" y2="1029.3" stroke="#b2b2b2" stroke-width="1.1" />
<line x1="905" y1="897.8" x2="905" y2="1029.3" stroke="#b2b2b2" stroke-width="1.1" />
<line x1="905" y1="897.8" x2="914" y2="897.8" stroke="#b2b2b2" stroke-width="1.1" />
<text x="934" y="904.3" font-size="18" text-anchor="start" font-weight="normal" fill="#303030" >0.08</text>
<line x1="905" y1="910.9" x2="912" y2="910.9" stroke="#b2b2b2" stroke-width="1.1" />
<line x1="905" y1="924.1" x2="914" y2="924.1" stroke="#b2b2b2" stroke-width="1.1" />
<text x="934" y="930.6" font-size="18" text-anchor="start" font-weight="normal" fill="#303030" >0.06</text>
<line x1="905" y1="937.2" x2="912" y2="937.2" stroke="#b2b2b2" stroke-width="1.1" />
<line x1="905" y1="950.4" x2="914" y2="950.4" stroke="#b2b2b2" stroke-width="1.1" />
<text x="934" y="956.9" font-size="18" text-anchor="start" font-weight="normal" fill="#303030" >0.04</text>
<line x1="905" y1="963.5" x2="912" y2="963.5" stroke="#b2b2b2" stroke-width="1.1" />
<line x1="905" y1="976.7" x2="914" y2="976.7" stroke="#b2b2b2" stroke-width="1.1" />
<text x="934" y="983.2" font-size="18" text-anchor="start" font-weight="normal" fill="#303030" >0.02</text>
<line x1="905" y1="989.8" x2="912" y2="989.8" stroke="#b2b2b2" stroke-width="1.1" />
<line x1="905" y1="1003" x2="914" y2="1003" stroke="#b2b2b2" stroke-width="1.1" />
<text x="934" y="1009.5" font-size="18" text-anchor="start" font-weight="normal" fill="#303030" >0</text>
<line x1="905" y1="1016.1" x2="912" y2="1016.1" stroke="#b2b2b2" stroke-width="1.1" />
<line x1="905" y1="1029.3" x2="914" y2="1029.3" stroke="#b2b2b2" stroke-width="1.1" />
<text x="934" y="1035.8" font-size="18" text-anchor="start" font-weight="normal" fill="#303030" >-0.02</text>
<line x1="111" y1="1029.3" x2="905" y2="1029.3" stroke="#b2b2b2" stroke-width="1.1" />
<line x1="111" y1="1029.3" x2="111" y2="1044.3" stroke="#b2b2b2" stroke-width="1.1" />
<text x="111" y="1073" font-size="18" text-anchor="middle" font-weight="normal" fill="#303030" >0</text>
<line x1="160.6" y1="1029.3" x2="160.6" y2="1037.3" stroke="#b2b2b2" stroke-width="1.1" />
<line x1="210.2" y1="1029.3" x2="210.2" y2="1044.3" stroke="#b2b2b2" stroke-width="1.1" />
<text x="210.2" y="1073" font-size="18" text-anchor="middle" font-weight="normal" fill="#303030" >500</text>
<line x1="259.9" y1="1029.3" x2="259.9" y2="1037.3" stroke="#b2b2b2" stroke-width="1.1" />
<line x1="309.5" y1="1029.3" x2="309.5" y2="1044.3" stroke="#b2b2b2" stroke-width="1.1" />
<text x="309.5" y="1073" font-size="18" text-anchor="middle" font-weight="normal" fill="#303030" >1000</text>
<line x1="359.1" y1="1029.3" x2="359.1" y2="1037.3" stroke="#b2b2b2" stroke-width="1.1" />
<line x1="408.8" y1="1029.3" x2="408.8" y2="1044.3" stroke="#b2b2b2" stroke-width="1.1" />
<text x="408.8" y="1073" font-size="18" text-anchor="middle" font-weight="normal" fill="#303030" >1500</text>
<line x1="458.4" y1="1029.3" x2="458.4" y2="1037.3" stroke="#b2b2b2" stroke-width="1.1" />
<line x1="508" y1="1029.3" x2="508" y2="1044.3" stroke="#b2b2b2" stroke-width="1.1" />
<text x="508" y="1073" font-size="18" text-anchor="middle" font-weight="normal" fill="#303030" >2000</text>
<line x1="557.6" y1="1029.3" x2="557.6" y2="1037.3" stroke="#b2b2b2" stroke-width="1.1" />
<line x1="607.2" y1="1029.3" x2="607.2" y2="1044.3" stroke="#b2b2b2" stroke-width="1.1" />
<text x="607.2" y="1073" font-size="18" text-anchor="middle" font-weight="normal" fill="#303030" >2500</text>
<line x1="656.9" y1="1029.3" x2="656.9" y2="1037.3" stroke="#b2b2b2" stroke-width="1.1" />
<line x1="706.5" y1="1029.3" x2="706.5" y2="1044.3" stroke="#b2b2b2" stroke-width="1.1" />
<text x="706.5" y="1073" font-size="18" text-anchor="middle" font-weight="normal" fill="#303030" >3000</text>
<line x1="756.1" y1="1029.3" x2="756.1" y2="1037.3" stroke="#b2b2b2" stroke-width="1.1" />
<line x1="805.8" y1="1029.3" x2="805.8" y2="1044.3" stroke="#b2b2b2" stroke-width="1.1" />
<text x="805.8" y="1073" font-size="18" text-anchor="middle" font-weight="normal" fill="#303030" >3500</text>
<line x1="855.4" y1="1029.3" x2="855.4" y2="1037.3" stroke="#b2b2b2" stroke-width="1.1" />
<line x1="905" y1="1029.3" x2="905" y2="1044.3" stroke="#b2b2b2" stroke-width="1.1" />
<text x="905" y="1073" font-size="18" text-anchor="middle" font-weight="normal" fill="#303030" >4000</text>
<text transform="translate(15 965.7) rotate(-90)" font-size="14.6" font-weight="bold" text-anchor="middle" fill="#222" >Horizontal</text>
<text transform="translate(31.5 963) rotate(-90)" font-size="14.6" font-weight="bold" text-anchor="middle" fill="#222" >gradient (%)</text>
<text transform="translate(998 939) rotate(-90)" font-size="14.6" font-weight="bold" text-anchor="middle" fill="#222" >Vertical</text>
<text transform="translate(1014 960) rotate(-90)" font-size="14.6" font-weight="bold" text-anchor="middle" fill="#222" >gradient (%)</text>
<path d="M111 957.5 C140.7 959.2 170.3 961.6 200 962.5 C233.3 963.5 266.7 963.4 300 964.5 C320 965.1 340 966.2 360 968.5 C369.8 969.6 379.5 973.3 389.3 976.4 C397.1 978.9 404.9 982.5 412.7 985.2 C419.5 987.6 426.4 992 433.2 992 C437.1 992 441.1 990.4 445 988.2 C448.9 986.1 452.8 974.6 456.7 966.2 C460.6 957.8 464.5 945 468.4 936.9 C470.8 931.9 473.3 923.7 475.7 923.7 C478.1 923.7 480.6 925.3 483 926.6 C487.9 929.3 492.8 938.6 497.7 942.7 C503.6 947.6 509.4 952.1 515.3 954.5 C522.1 957.2 529 958.9 535.8 960.3 C545.6 962.3 555.3 962.6 565.1 964.7 C571 966 576.8 968.4 582.7 970.6 C586.1 971.9 589.6 975 593 975 C596.4 975 599.8 967.2 603.2 963.2 C606.9 958.9 610.6 950.1 614.3 950.1 C617.4 950.1 620.6 951.8 623.7 953 C628.6 954.8 633.4 959.4 638.3 960.3 C645.5 961.7 652.8 962.7 660 962.7 C715.5 963 771.1 962.7 826.6 963.1 C831 963.1 835.5 967.9 839.9 971.1 C843.4 973.6 847 977.4 850.5 980.4 C852.9 982.5 855.4 986.4 857.8 986.4 C859.4 986.4 860.9 983.6 862.5 979 C863.4 976.3 864.3 964.9 865.2 949.8 C865.9 938.6 866.5 883.3 867.2 883.3 C868.1 883.3 868.9 963.1 869.8 963.1 C881.5 963.1 893.3 963.1 905 963.1" fill="none" stroke="#e8404a" stroke-width="1.7" stroke-linejoin="round"/>
<path d="M111 1002.5 C115.7 1003.3 120.3 1004.3 125 1005 C130 1005.8 135 1006.6 140 1007 C146.7 1007.6 153.3 1008.1 160 1008.2 C173.3 1008.5 186.7 1008.7 200 1008.7 C253.3 1008.7 306.7 1008.7 360 1008.7 C369.8 1008.7 379.5 1006.6 389.3 1004.3 C397.1 1002.5 404.9 998.4 412.7 992.5 C419.5 987.4 426.4 975.2 433.2 963.2 C438.1 954.6 443 940.3 447.9 931 C451.8 923.6 455.7 911.1 459.6 911.1 C462.5 911.1 465.5 914.2 468.4 917.8 C471.3 921.4 474.3 936 477.2 945.7 C481.1 958.7 485 980 488.9 986.7 C492.8 993.4 496.7 998.6 500.6 999.9 C505.5 1001.6 510.4 1002.8 515.3 1002.8 C533.9 1002.8 552.4 1002.8 571 1002.8 C576.8 1002.8 582.7 995.2 588.5 989.6 C593.4 984.9 598.3 970.6 603.2 970.6 C607.1 970.6 611 985 614.9 989.6 C619.8 995.3 624.7 1002.8 629.6 1002.8 C698.8 1003 768 1003 837.2 1003 C840.3 1003 843.4 1001.3 846.5 999 C848.7 997.3 851 991.7 853.2 983 C854.5 977.8 855.9 961.9 857.2 949.8 C858.6 937.1 860 907.9 861.4 907.9 C863.1 907.9 864.8 938.7 866.5 956.4 C867.8 970.3 869.2 1002.3 870.5 1002.3 C882 1002.3 893.5 1002.3 905 1002.3" fill="none" stroke="#4a4ae8" stroke-width="1.7" stroke-linejoin="round"/>
<line x1="474.3" y1="914.9" x2="474.3" y2="1029.3" stroke="#111" stroke-width="1.6" stroke-dasharray="1.4 1.2"/>
<text transform="translate(488 1003.5) rotate(-90)" font-size="12.5" font-weight="normal" text-anchor="middle" fill="#333" >Cracks</text>
<line x1="518.3" y1="912.5" x2="644.7" y2="912.5" stroke="#e8404a" stroke-width="1.7" />
<text x="657" y="917.8" font-size="14.7" text-anchor="start" font-weight="normal" fill="#303030" >Horizontal gradient</text>
<line x1="518.3" y1="936.4" x2="644.7" y2="936.4" stroke="#4a4ae8" stroke-width="1.7" />
<text x="657" y="941.7" font-size="14.7" text-anchor="start" font-weight="normal" fill="#303030" >Vertical gradient</text>
<text x="923" y="1056" font-size="27" text-anchor="start" font-weight="bold" fill="#000" >f</text>
<defs>
<g id="hatch"><path d="M-22.4 83.7L-3.2 102.9M-1 83.8L45.2 130M-10.6 55.8L15.2 81.7M27 93.5L66.5 133M12.7 62.2L49.9 99.4M-24.5 7.4L24.5 56.5M36.3 68.2L78.2 110.1M-11.1 2.1L15 28.3M28.4 41.6L55.3 68.5M66 79.3L88 101.3M-5.3 -11.1L38.4 32.6M56.3 50.5L109.2 103.4M-21.4 -43.8L25.7 3.3M45.1 22.7L66 43.6M74.4 52L92.9 70.5M109.2 86.9L136.5 114.2M42.9 1.5L95.6 54.2M101.5 60.1L149.7 108.3M54.6 -4.9L73.1 13.7M77.7 18.3L106.3 46.9M114.2 54.8L153.5 94.1M73.4 -3.2L120.8 44.2M136.7 60.1L172.9 96.3M43 -52.5L91.2 -4.2M110.5 15.1L144.7 49.2M153.1 57.6L178.1 82.6M197 101.6L222 126.6M115.2 1.4L141.7 27.9M150.1 36.3L186.6 72.8M193.8 80L225 111.2M111.9 -19.2L142 10.8M147.6 16.5L173.7 42.6M182 50.9L220.7 89.6M106.3 -43.3L159.3 9.7M174.7 25.1L216.4 66.8M232.6 83L267 117.4M154.9 -12.7L202.3 34.7M218.1 50.4L254.3 86.7M261.8 94.1L315.8 148.1M166.8 -18.3L220.5 35.5M228 43L258.6 73.5M275.6 90.6L324 138.9M192.3 -10.8L225.7 22.5M237.6 34.5L290 86.9M297.1 94L344.7 141.6M214.2 -6.6L240.6 19.8M248.7 27.9L271.5 50.7M289.5 68.7L328.5 107.7M239.5 0.8L268.3 29.7M275.8 37.1L323.1 84.5M335.9 97.2L355.2 116.6M226.4 -30.7L274.1 17M293.4 36.2L317.9 60.7M324.1 67L377.1 119.9M270.5 -3.4L306.1 32.3M314 40.2L360.2 86.3M376.5 102.7L411 137.2M275.1 -16.2L311.3 19.9M329.8 38.5L354.7 63.4M363.1 71.7L399.4 108M310.4 -2.4L346.9 34.2M365.1 52.3L387.1 74.4M394.9 82.1L436.8 124M287.6 -44.9L335.7 3.2M342.6 10.1L371.4 38.9M380.3 47.8L399.1 66.6M417.2 84.7L464.1 131.6M323.7 -26.6L366.1 15.8M385.6 35.3L420.5 70.2M437.8 87.5L481.4 131.1M342.8 -24.3L363.6 -3.5M369.4 2.2L415.3 48.1M422.7 55.6L451.9 84.7M462.7 95.6L480.5 113.3M346.9 -40.9L390.5 2.7M406.9 19.2L447.9 60.1M457.7 69.9L490 102.2M374.4 -31.6L403.9 -2.1M411.1 5.1L465.3 59.3M480.8 74.9L501.7 95.7M414.1 -9.1L461 37.8M476.3 53.1L517.3 94.1M525.5 102.3L558.6 135.4M419.8 -24.6L450.3 5.9M458.6 14.2L484.2 39.8M499.9 55.5L552.8 108.4M440.6 -22.7L492.1 28.9M508.6 45.3L530.9 67.6M548.1 84.8L589.2 126M452.9 -30.2L495.3 12.2M512.6 29.5L543.9 60.8M554.6 71.6L608.3 125.2M473.8 -29.4L515 11.8M531.4 28.3L549.9 46.8M565.4 62.2L616.2 113M501.7 -21.4L549.7 26.5M562.8 39.7L614.9 91.7M626.1 102.9L643.6 120.4M550 9.7L573.3 33M590.9 50.7L626.5 86.2M631.7 91.4L662.7 122.4M556.7 -4.8L575.3 13.8M592.5 31L640.5 79M658.2 96.7L697 135.5M573.1 -5.9L595.8 16.8M600.7 21.7L655.8 76.8M665.8 86.8L686.9 107.9M578.6 -19.7L612.7 14.4M619.5 21.1L673.3 75M693 94.6L718.4 120.1M619.5 1.4L653.7 35.7M663.3 45.2L711.7 93.6M612.5 -22.9L634.8 -0.5M639.1 3.7L687.8 52.5M700.3 64.9L724.3 89M735.3 100L787.1 151.8M631 -21.3L648.1 -4.1M660.4 8.2L694.4 42.2M706.7 54.5L728.3 76M743.6 91.4L791.8 139.5M663.9 -5.1L686.5 17.5M699.7 30.6L745.2 76.1M752 82.9L800.5 131.4M682.7 -4.9L733.4 45.9M738.2 50.7L779.7 92.1M788 100.5L830.9 143.4M687.3 -19.3L704.7 -1.9M714.5 7.8L764.3 57.7M772.3 65.7L810.5 103.9M724.3 0.4L763.1 39.2M773.9 49.9L820.7 96.8M738.2 -5.8L768.8 24.8M782.3 38.3L812.7 68.7M738.8 -23.7L780.1 17.5M785 22.4L817.7 55.1M750.5 -32.7L784.3 1M798.2 14.9L824.6 41.4M766 -37.9L799.9 -4M-19 2.5L34.5 -51M-7.2 28.4L25.2 -4M-21.4 60.5L20.6 18.5M36.9 2.2L67.7 -28.6M1.6 57.2L43.1 15.7M52 6.8L106.9 -48.1M2.1 77.7L54.1 25.7M69.5 10.3L120.1 -40.3M8.3 88.4L50.2 46.4M62.9 33.7L100.8 -4.2M11.5 104.2L42.9 72.8M58.3 57.4L90.3 25.4M102.7 13L143.1 -27.4M11 121.8L31.3 101.5M41.7 91.1L96.7 36.1M111.8 21L145.9 -13.1M43.2 107.8L85.6 65.4M95 56.1L114.7 36.4M130.7 20.4L162.1 -11.1M34 136.4L73.2 97.1M93 77.4L141.2 29.2M159 11.4L181.5 -11.1M46.1 142.8L85.7 103.3M97 91.9L149.7 39.3M160.8 28.1L211.3 -22.4M94.5 115.1L148.9 60.7M159.3 50.3L177.5 32.1M187.7 22L229.1 -19.5M89.6 137.7L123.7 103.6M131.8 95.5L177.1 50.1M184.1 43.1L231.2 -3.9M103 143.1L154 92.1M158.5 87.6L211.5 34.6M223.3 22.8L270.5 -24.4M127 135.6L181.2 81.4M201 61.6L248.2 14.4M259.9 2.7L295.9 -33.2M160.9 120.4L209.9 71.4M217.8 63.6L242.3 39M253.7 27.7L279.7 1.7M163.2 136.9L206.2 93.9M211.1 89L259.5 40.6M266.6 33.5L293.9 6.2M221.3 97.9L264.1 55.1M282.4 36.7L318.4 0.7M212.1 125L260.6 76.5M277.2 59.9L307.5 29.7M313.9 23.3L350.5 -13.4M254.1 103.4L292.7 64.8M302.5 55L355.3 2.2M240.9 137.5L290.1 88.2M306.7 71.7L355.6 22.7M362.2 16.1L404.8 -26.5M286.2 113.5L316.2 83.6M325.6 74.2L364.3 35.5M371.9 27.9L419.2 -19.4M286 132L313.1 104.8M326 91.9L369.8 48.1M389.2 28.8L434.7 -16.8M330.9 105.8L383.9 52.8M403.4 33.3L437.1 -0.4M321.2 135.2L363 93.4M378 78.4L412.9 43.4M419.4 37L471.1 -14.7M335.7 140.5L385.2 91.1M398.1 78.2L446.4 29.8M458.5 17.8L499.1 -22.9M354.4 138.8L406.4 86.8M422 71.2L469.4 23.8M487.9 5.3L536.8 -43.6M384.4 128.6L432.9 80.1M442 70.9L482.9 30M492.9 20.1L530.4 -17.4M409.2 121.6L428.6 102.2M433.9 96.9L451.4 79.4M461.3 69.5L483.7 47.1M489.7 41.1L525.5 5.3M416.6 134.7L463.7 87.6M471.8 79.5L502.8 48.5M515.2 36.1L536.4 14.9M544.5 6.8L591.9 -40.6M456.4 111.5L479.9 88M497.6 70.3L522.7 45.3M528.2 39.7L555.3 12.6M452.2 134.6L505.1 81.7M515.6 71.2L558.5 28.3M562.9 23.9L616.1 -29.3M505.6 102.5L556.5 51.6M571 37.1L620.8 -12.7M487.6 139.7L522.6 104.7M537.3 90L584.8 42.5M589.1 38.1L624.3 3M524.4 120.5L565.6 79.3M580.8 64.1L634.6 10.3M641.9 3L688.2 -43.3M562.5 100.3L600.9 61.9M605.9 56.9L628.7 34M643.8 19L675.4 -12.7M533.9 145.8L587.5 92.3M604.1 75.7L632.9 46.9M642 37.7L686.5 -6.8M588.7 110.1L617.1 81.7M622.4 76.4L668 30.7M684.3 14.5L717.9 -19.2M623.9 94.1L646.5 71.4M664 53.9L693.3 24.7M700.2 17.7L745.6 -27.7M615.1 123.9L644.9 94M661.9 77L692.1 46.9M709.4 29.5L758.8 -19.8M636.9 122.9L685.6 74.2M697.9 61.9L733.3 26.5M744 15.7L794.6 -34.8M662.5 118.4L700.9 80M717.5 63.4L741.5 39.4M759.9 21L797.9 -17M694.9 102.6L739 58.5M747.5 50L796.5 1M701.6 115.8L733.5 83.9M740.1 77.2L790.1 27.3M803.2 14.1L820.5 -3.1M702.6 133.3L742.8 93.1M759.3 76.6L786.2 49.7M796.2 39.7L828 7.9M712.1 141.6L753.1 100.6M759.1 94.6L782.3 71.5M789.3 64.4L829.6 24.2M751.6 123.5L799.1 76M776.6 119.8L798 98.5" stroke="#2a2a2a" stroke-width="1.65" fill="none"/></g>
</defs>
<clipPath id="cp405"><rect x="110.5" y="405" width="796" height="99"/></clipPath>
<g clip-path="url(#cp405)"><use href="#hatch" transform="translate(110.5 405)"/></g>
<clipPath id="blkC"><path d="M110.5 405 L867.7 405 L867.7 422.6 L606 422.6 L606 430.3 L466.7 430.3 L461.7 474.3 L110.5 455.5 Z"/></clipPath>
<g clip-path="url(#blkC)">
<path d="M110 405h73v1h-73zM437 405h5v1h-5zM110 406h98v1h-98zM436 406h5v1h-5zM113 407h119v1h-119zM435 407h6v1h-6zM137 408h119v1h-119zM434 408h6v1h-6zM162 409h118v1h-118zM433 409h6v1h-6zM186 410h117v1h-117zM432 410h6v1h-6zM209 411h118v1h-118zM430 411h7v1h-7zM233 412h117v1h-117zM429 412h7v1h-7zM256 413h117v1h-117zM426 413h9v1h-9zM279 414h155v1h-155zM302 415h131v1h-131zM325 416h106v1h-106zM348 417h81v1h-81zM370 418h57v1h-57zM403 419h21v1h-21z" fill="#f64a12"/>
<path d="M183 405h121v1h-121zM431 405h6v1h-6zM208 406h120v1h-120zM429 406h7v1h-7zM232 407h120v1h-120zM428 407h7v1h-7zM256 408h119v1h-119zM425 408h9v1h-9zM280 409h153v1h-153zM303 410h129v1h-129zM327 411h103v1h-103zM350 412h79v1h-79zM373 413h53v1h-53z" fill="#f41e0e"/>
<path d="M304 405h127v1h-127zM328 406h101v1h-101zM352 407h76v1h-76zM375 408h50v1h-50z" fill="#ff0000"/>
<path d="M442 405h5v1h-5zM441 406h5v1h-5zM110 407h3v1h-3zM441 407h5v1h-5zM110 408h27v1h-27zM440 408h5v1h-5zM110 409h52v1h-52zM439 409h5v1h-5zM110 410h76v1h-76zM438 410h6v1h-6zM110 411h99v1h-99zM437 411h6v1h-6zM117 412h116v1h-116zM436 412h6v1h-6zM141 413h115v1h-115zM435 413h6v1h-6zM164 414h115v1h-115zM434 414h6v1h-6zM188 415h114v1h-114zM433 415h6v1h-6zM211 416h114v1h-114zM431 416h7v1h-7zM234 417h114v1h-114zM429 417h8v1h-8zM256 418h114v1h-114zM427 418h9v1h-9zM279 419h124v1h-124zM424 419h11v1h-11zM301 420h133v1h-133zM324 421h108v1h-108zM346 422h85v1h-85zM368 423h60v1h-60zM392 424h33v1h-33z" fill="#f87a18"/>
<path d="M447 405h4v1h-4zM446 406h5v1h-5zM446 407h4v1h-4zM445 408h5v1h-5zM444 409h5v1h-5zM444 410h5v1h-5zM443 411h5v1h-5zM110 412h7v1h-7zM442 412h5v1h-5zM110 413h31v1h-31zM441 413h6v1h-6zM110 414h54v1h-54zM440 414h6v1h-6zM110 415h78v1h-78zM439 415h6v1h-6zM110 416h101v1h-101zM438 416h6v1h-6zM121 417h113v1h-113zM437 417h7v1h-7zM144 418h112v1h-112zM436 418h7v1h-7zM167 419h112v1h-112zM435 419h7v1h-7zM189 420h112v1h-112zM434 420h7v1h-7zM212 421h112v1h-112zM432 421h8v1h-8zM234 422h112v1h-112zM431 422h8v1h-8zM257 423h111v1h-111zM428 423h10v1h-10zM279 424h113v1h-113zM425 424h11v1h-11zM301 425h134v1h-134zM322 426h112v1h-112zM344 427h88v1h-88zM366 428h64v1h-64zM387 429h40v1h-40z" fill="#fba91e"/>
<path d="M451 405h5v1h-5zM451 406h5v1h-5zM450 407h5v1h-5zM450 408h5v1h-5zM449 409h5v1h-5zM449 410h5v1h-5zM448 411h5v1h-5zM447 412h5v1h-5zM447 413h5v1h-5zM446 414h5v1h-5zM445 415h5v1h-5zM444 416h6v1h-6zM110 417h11v1h-11zM444 417h5v1h-5zM110 418h34v1h-34zM443 418h5v1h-5zM110 419h57v1h-57zM442 419h6v1h-6zM110 420h79v1h-79zM441 420h6v1h-6zM110 421h102v1h-102zM440 421h6v1h-6zM125 422h109v1h-109zM439 422h6v1h-6zM147 423h110v1h-110zM438 423h6v1h-6zM169 424h110v1h-110zM436 424h8v1h-8zM191 425h110v1h-110zM435 425h8v1h-8zM213 426h109v1h-109zM434 426h8v1h-8zM235 427h109v1h-109zM432 427h8v1h-8zM257 428h109v1h-109zM430 428h9v1h-9zM278 429h109v1h-109zM427 429h11v1h-11zM300 430h137v1h-137zM321 431h114v1h-114zM343 432h90v1h-90zM364 433h67v1h-67zM385 434h43v1h-43z" fill="#ffe000"/>
<path d="M456 405h6v1h-6zM456 406h5v1h-5zM455 407h6v1h-6zM455 408h5v1h-5zM454 409h6v1h-6zM454 410h5v1h-5zM453 411h5v1h-5zM452 412h6v1h-6zM452 413h5v1h-5zM451 414h6v1h-6zM450 415h6v1h-6zM450 416h6v1h-6zM449 417h6v1h-6zM448 418h6v1h-6zM448 419h6v1h-6zM447 420h6v1h-6zM446 421h6v1h-6zM110 422h15v1h-15zM445 422h7v1h-7zM110 423h37v1h-37zM444 423h7v1h-7zM110 424h59v1h-59zM444 424h6v1h-6zM110 425h81v1h-81zM443 425h6v1h-6zM110 426h103v1h-103zM442 426h6v1h-6zM128 427h107v1h-107zM440 427h7v1h-7zM150 428h107v1h-107zM439 428h8v1h-8zM171 429h107v1h-107zM438 429h8v1h-8zM193 430h107v1h-107zM437 430h8v1h-8zM214 431h107v1h-107zM435 431h9v1h-9zM236 432h107v1h-107zM433 432h9v1h-9zM257 433h107v1h-107zM431 433h10v1h-10zM278 434h107v1h-107zM428 434h12v1h-12zM299 435h139v1h-139zM320 436h117v1h-117zM341 437h94v1h-94zM362 438h71v1h-71zM383 439h47v1h-47zM413 440h12v1h-12z" fill="#c8f032"/>
<path d="M462 405h8v1h-8zM461 406h6v1h-6zM461 407h5v1h-5zM460 408h6v1h-6zM460 409h5v1h-5zM459 410h5v1h-5zM458 411h6v1h-6zM458 412h5v1h-5zM457 413h6v1h-6zM457 414h5v1h-5zM456 415h6v1h-6zM456 416h6v1h-6zM455 417h6v1h-6zM454 418h7v1h-7zM454 419h6v1h-6zM453 420h6v1h-6zM452 421h7v1h-7zM452 422h6v1h-6zM451 423h6v1h-6zM450 424h7v1h-7zM449 425h7v1h-7zM448 426h7v1h-7zM110 427h18v1h-18zM447 427h7v1h-7zM110 428h40v1h-40zM447 428h7v1h-7zM110 429h61v1h-61zM446 429h7v1h-7zM110 430h83v1h-83zM445 430h7v1h-7zM110 431h104v1h-104zM444 431h7v1h-7zM132 432h104v1h-104zM442 432h8v1h-8zM153 433h104v1h-104zM441 433h8v1h-8zM174 434h104v1h-104zM440 434h8v1h-8zM195 435h104v1h-104zM438 435h9v1h-9zM216 436h104v1h-104zM437 436h9v1h-9zM236 437h105v1h-105zM435 437h10v1h-10zM257 438h105v1h-105zM433 438h11v1h-11zM278 439h105v1h-105zM430 439h12v1h-12zM298 440h115v1h-115zM425 440h16v1h-16zM319 441h120v1h-120zM339 442h98v1h-98zM360 443h75v1h-75zM380 444h52v1h-52zM406 445h22v1h-22z" fill="#8cec30"/>
<path d="M470 405h135v1h-135zM467 406h136v1h-136zM466 407h135v1h-135zM466 408h132v1h-132zM465 409h129v1h-129zM464 410h6v1h-6zM464 411h4v1h-4zM463 412h4v1h-4zM463 413h3v1h-3zM462 414h4v1h-4zM462 415h4v1h-4zM462 416h3v1h-3zM461 417h4v1h-4zM461 418h3v1h-3zM460 419h4v1h-4zM459 420h5v1h-5zM459 421h4v1h-4zM458 422h5v1h-5zM457 423h6v1h-6zM457 424h5v1h-5zM456 425h6v1h-6zM455 426h7v1h-7zM454 427h7v1h-7zM454 428h7v1h-7zM453 429h8v1h-8zM452 430h8v1h-8zM451 431h8v1h-8zM110 432h22v1h-22zM450 432h8v1h-8zM110 433h43v1h-43zM449 433h9v1h-9zM110 434h64v1h-64zM448 434h9v1h-9zM110 435h85v1h-85zM447 435h9v1h-9zM114 436h102v1h-102zM446 436h9v1h-9zM135 437h101v1h-101zM445 437h9v1h-9zM155 438h102v1h-102zM444 438h9v1h-9zM176 439h102v1h-102zM442 439h10v1h-10zM196 440h102v1h-102zM441 440h10v1h-10zM217 441h102v1h-102zM439 441h10v1h-10zM237 442h102v1h-102zM437 442h11v1h-11zM257 443h103v1h-103zM435 443h12v1h-12zM277 444h103v1h-103zM432 444h13v1h-13zM298 445h108v1h-108zM428 445h16v1h-16zM318 446h124v1h-124zM338 447h102v1h-102zM358 448h79v1h-79zM378 449h56v1h-56zM401 450h29v1h-29z" fill="#1ee01e"/>
<path d="M605 405h264v1h-264zM603 406h12v1h-12zM601 407h11v1h-11zM598 408h12v1h-12zM594 409h14v1h-14zM470 410h136v1h-136zM468 411h136v1h-136zM467 412h135v1h-135zM466 413h133v1h-133zM466 414h130v1h-130zM466 415h4v1h-4zM465 416h3v1h-3zM465 417h2v1h-2zM464 418h3v1h-3zM464 419h2v1h-2zM464 420h2v1h-2zM463 421h3v1h-3zM463 422h2v1h-2zM463 423h2v1h-2zM462 424h3v1h-3zM462 425h3v1h-3zM462 426h2v1h-2zM461 427h3v1h-3zM461 428h3v1h-3zM461 429h3v1h-3zM460 430h3v1h-3zM459 431h4v1h-4zM458 432h5v1h-5zM458 433h5v1h-5zM457 434h5v1h-5zM456 435h6v1h-6zM110 436h4v1h-4zM455 436h7v1h-7zM110 437h25v1h-25zM454 437h8v1h-8zM110 438h45v1h-45zM453 438h8v1h-8zM110 439h66v1h-66zM452 439h9v1h-9zM110 440h86v1h-86zM451 440h10v1h-10zM118 441h99v1h-99zM449 441h11v1h-11zM138 442h99v1h-99zM448 442h11v1h-11zM158 443h99v1h-99zM447 443h11v1h-11zM178 444h99v1h-99zM445 444h12v1h-12zM198 445h100v1h-100zM444 445h11v1h-11zM218 446h100v1h-100zM442 446h12v1h-12zM237 447h101v1h-101zM440 447h13v1h-13zM257 448h101v1h-101zM437 448h14v1h-14zM277 449h101v1h-101zM434 449h15v1h-15zM297 450h104v1h-104zM430 450h18v1h-18zM317 451h129v1h-129zM336 452h108v1h-108zM356 453h85v1h-85zM376 454h62v1h-62zM397 455h37v1h-37zM421 456h4v1h-4z" fill="#14a050"/>
<path d="M615 406h254v1h-254zM612 407h257v1h-257zM610 408h259v1h-259zM608 409h261v1h-261zM606 410h263v1h-263zM604 411h14v1h-14zM602 412h12v1h-12zM599 413h12v1h-12zM596 414h13v1h-13zM470 415h137v1h-137zM468 416h137v1h-137zM467 417h135v1h-135zM467 418h133v1h-133zM466 419h131v1h-131zM466 420h3v1h-3zM466 421h2v1h-2zM465 422h2v1h-2zM465 423h2v1h-2zM465 424h2v1h-2zM465 425h1v1h-1zM464 426h2v1h-2zM464 427h2v1h-2zM464 428h2v1h-2zM464 429h1v1h-1zM463 430h2v1h-2zM463 431h2v1h-2zM463 432h2v1h-2zM463 433h2v1h-2zM462 434h2v1h-2zM462 435h2v1h-2zM462 436h2v1h-2zM462 437h2v1h-2zM461 438h3v1h-3zM461 439h3v1h-3zM461 440h2v1h-2zM110 441h8v1h-8zM460 441h3v1h-3zM110 442h28v1h-28zM459 442h4v1h-4zM110 443h48v1h-48zM458 443h5v1h-5zM110 444h68v1h-68zM457 444h6v1h-6zM110 445h88v1h-88zM455 445h7v1h-7zM121 446h97v1h-97zM454 446h8v1h-8zM140 447h97v1h-97zM453 447h9v1h-9zM160 448h97v1h-97zM451 448h11v1h-11zM180 449h97v1h-97zM449 449h12v1h-12zM199 450h98v1h-98zM448 450h13v1h-13zM219 451h98v1h-98zM446 451h15v1h-15zM238 452h98v1h-98zM444 452h16v1h-16zM257 453h99v1h-99zM441 453h17v1h-17zM277 454h99v1h-99zM438 454h18v1h-18zM296 455h101v1h-101zM434 455h20v1h-20zM316 456h105v1h-105zM425 456h27v1h-27zM335 457h115v1h-115zM354 458h93v1h-93zM374 459h70v1h-70zM394 460h45v1h-45zM416 461h16v1h-16z" fill="#1e5ec0"/>
<path d="M618 411h251v1h-251zM614 412h255v1h-255zM611 413h258v1h-258zM609 414h260v1h-260zM607 415h262v1h-262zM605 416h264v1h-264zM602 417h14v1h-14zM600 418h13v1h-13zM597 419h13v1h-13zM469 420h139v1h-139zM468 421h137v1h-137zM467 422h136v1h-136zM467 423h134v1h-134zM467 424h130v1h-130zM466 425h3v1h-3zM466 426h2v1h-2zM466 427h1v1h-1zM466 428h1v1h-1zM465 429h2v1h-2zM465 430h2v1h-2zM465 431h1v1h-1zM465 432h1v1h-1zM465 433h1v1h-1zM464 434h2v1h-2zM464 435h2v1h-2zM464 436h1v1h-1zM464 437h1v1h-1zM464 438h1v1h-1zM464 439h1v1h-1zM463 440h2v1h-2zM463 441h2v1h-2zM463 442h1v1h-1zM463 443h1v1h-1zM463 444h1v1h-1zM462 445h2v1h-2zM110 446h11v1h-11zM462 446h2v1h-2zM110 447h30v1h-30zM462 447h2v1h-2zM110 448h50v1h-50zM462 448h2v1h-2zM110 449h70v1h-70zM461 449h2v1h-2zM110 450h89v1h-89zM461 450h2v1h-2zM124 451h95v1h-95zM461 451h2v1h-2zM143 452h95v1h-95zM460 452h3v1h-3zM162 453h95v1h-95zM458 453h5v1h-5zM181 454h96v1h-96zM456 454h7v1h-7zM200 455h96v1h-96zM454 455h8v1h-8zM220 456h96v1h-96zM452 456h10v1h-10zM239 457h96v1h-96zM450 457h12v1h-12zM258 458h96v1h-96zM447 458h15v1h-15zM277 459h97v1h-97zM444 459h17v1h-17zM296 460h98v1h-98zM439 460h22v1h-22zM315 461h101v1h-101zM432 461h29v1h-29zM334 462h127v1h-127zM353 463h107v1h-107zM372 464h84v1h-84zM391 465h60v1h-60zM411 466h33v1h-33z" fill="#0010f0"/>
<path d="M616 417h253v1h-253zM613 418h256v1h-256zM610 419h259v1h-259zM608 420h261v1h-261zM605 421h264v1h-264zM603 422h266v1h-266zM601 423h14v1h-14zM597 424h14v1h-14zM469 425h140v1h-140zM468 426h138v1h-138zM467 427h137v1h-137zM467 428h134v1h-134zM467 429h131v1h-131zM467 430h2v1h-2zM466 431h2v1h-2zM466 432h2v1h-2zM466 433h1v1h-1zM466 434h1v1h-1zM466 435h1v1h-1zM465 436h2v1h-2zM465 437h1v1h-1zM465 438h1v1h-1zM465 439h1v1h-1zM465 440h1v1h-1zM465 441h1v1h-1zM464 442h2v1h-2zM464 443h1v1h-1zM464 444h1v1h-1zM464 445h1v1h-1zM464 446h1v1h-1zM464 447h1v1h-1zM464 448h1v1h-1zM463 449h2v1h-2zM463 450h1v1h-1zM110 451h14v1h-14zM463 451h1v1h-1zM110 452h33v1h-33zM463 452h1v1h-1zM110 453h52v1h-52zM463 453h1v1h-1zM110 454h71v1h-71zM463 454h1v1h-1zM110 455h90v1h-90zM462 455h2v1h-2zM127 456h93v1h-93zM462 456h2v1h-2zM146 457h93v1h-93zM462 457h2v1h-2zM164 458h94v1h-94zM462 458h1v1h-1zM183 459h94v1h-94zM461 459h2v1h-2zM202 460h94v1h-94zM461 460h2v1h-2zM220 461h95v1h-95zM461 461h2v1h-2zM239 462h95v1h-95zM461 462h2v1h-2zM258 463h95v1h-95zM460 463h3v1h-3zM276 464h96v1h-96zM456 464h7v1h-7zM295 465h96v1h-96zM451 465h11v1h-11zM314 466h97v1h-97zM444 466h18v1h-18zM332 467h130v1h-130zM351 468h111v1h-111zM370 469h92v1h-92zM388 470h73v1h-73zM407 471h54v1h-54zM426 472h35v1h-35zM444 473h17v1h-17z" fill="#3a34ea"/>
<path d="M615 423h254v1h-254zM611 424h258v1h-258zM609 425h260v1h-260zM606 426h263v1h-263zM604 427h265v1h-265zM601 428h268v1h-268zM598 429h271v1h-271zM469 430h400v1h-400zM468 431h401v1h-401zM468 432h401v1h-401zM467 433h402v1h-402zM467 434h402v1h-402zM467 435h402v1h-402zM467 436h402v1h-402zM466 437h403v1h-403zM466 438h403v1h-403zM466 439h403v1h-403zM466 440h403v1h-403zM466 441h403v1h-403zM466 442h403v1h-403zM465 443h404v1h-404zM465 444h404v1h-404zM465 445h404v1h-404zM465 446h404v1h-404zM465 447h404v1h-404zM465 448h404v1h-404zM465 449h404v1h-404zM464 450h405v1h-405zM464 451h405v1h-405zM464 452h405v1h-405zM464 453h405v1h-405zM464 454h405v1h-405zM464 455h405v1h-405zM110 456h17v1h-17zM464 456h405v1h-405zM110 457h36v1h-36zM464 457h405v1h-405zM110 458h54v1h-54zM463 458h406v1h-406zM110 459h73v1h-73zM463 459h406v1h-406zM110 460h92v1h-92zM463 460h406v1h-406zM110 461h110v1h-110zM463 461h406v1h-406zM110 462h129v1h-129zM463 462h406v1h-406zM110 463h148v1h-148zM463 463h406v1h-406zM110 464h166v1h-166zM463 464h406v1h-406zM110 465h185v1h-185zM462 465h407v1h-407zM110 466h204v1h-204zM462 466h407v1h-407zM110 467h222v1h-222zM462 467h407v1h-407zM110 468h241v1h-241zM462 468h407v1h-407zM110 469h260v1h-260zM462 469h407v1h-407zM110 470h278v1h-278zM461 470h408v1h-408zM110 471h297v1h-297zM461 471h408v1h-408zM110 472h316v1h-316zM461 472h408v1h-408zM110 473h334v1h-334zM461 473h408v1h-408zM110 474h759v1h-759zM110 475h759v1h-759z" fill="#8466f0"/>
<pattern id="arrC" x="110.5" y="408" width="8" height="10.1" patternUnits="userSpaceOnUse"><rect x="2.2" y="0" width="1" height="7" fill="#fff" fill-opacity="0.45"/><rect x="1.7" y="5.5" width="2" height="2" fill="#fff" fill-opacity="0.75"/></pattern>
<rect x="110.5" y="405" width="800" height="75" fill="url(#arrC)"/>
</g>
<line x1="110.5" y1="405" x2="110.5" y2="512" stroke="#bcbcbc" stroke-width="1.1" />
<line x1="102.5" y1="405" x2="110.5" y2="405" stroke="#bcbcbc" stroke-width="1.1" />
<text x="99.5" y="410.8" font-size="16" text-anchor="end" font-weight="normal" fill="#303030" >0</text>
<line x1="102.5" y1="444.6" x2="110.5" y2="444.6" stroke="#bcbcbc" stroke-width="1.1" />
<text x="99.5" y="450.4" font-size="16" text-anchor="end" font-weight="normal" fill="#303030" >-200</text>
<line x1="102.5" y1="484.2" x2="110.5" y2="484.2" stroke="#bcbcbc" stroke-width="1.1" />
<text x="99.5" y="490" font-size="16" text-anchor="end" font-weight="normal" fill="#303030" >-400</text>
<line x1="906.5" y1="405" x2="906.5" y2="512" stroke="#bcbcbc" stroke-width="1.1" />
<line x1="906.5" y1="405" x2="916.5" y2="405" stroke="#bcbcbc" stroke-width="1.1" />
<line x1="906.5" y1="444.6" x2="916.5" y2="444.6" stroke="#bcbcbc" stroke-width="1.1" />
<line x1="906.5" y1="484.2" x2="916.5" y2="484.2" stroke="#bcbcbc" stroke-width="1.1" />
<line x1="103.5" y1="504" x2="906.5" y2="504" stroke="#bcbcbc" stroke-width="1.1" />
<line x1="110.5" y1="504" x2="110.5" y2="512" stroke="#bcbcbc" stroke-width="1.0" />
<text x="110.5" y="529" font-size="16" text-anchor="middle" font-weight="normal" fill="#303030" >0</text>
<line x1="210" y1="504" x2="210" y2="512" stroke="#bcbcbc" stroke-width="1.0" />
<text x="210" y="529" font-size="16" text-anchor="middle" font-weight="normal" fill="#303030" >500</text>
<line x1="309.5" y1="504" x2="309.5" y2="512" stroke="#bcbcbc" stroke-width="1.0" />
<text x="309.5" y="529" font-size="16" text-anchor="middle" font-weight="normal" fill="#303030" >1000</text>
<line x1="409" y1="504" x2="409" y2="512" stroke="#bcbcbc" stroke-width="1.0" />
<text x="409" y="529" font-size="16" text-anchor="middle" font-weight="normal" fill="#303030" >1500</text>
<line x1="508.5" y1="504" x2="508.5" y2="512" stroke="#bcbcbc" stroke-width="1.0" />
<text x="508.5" y="529" font-size="16" text-anchor="middle" font-weight="normal" fill="#303030" >2000</text>
<line x1="608" y1="504" x2="608" y2="512" stroke="#bcbcbc" stroke-width="1.0" />
<text x="608" y="529" font-size="16" text-anchor="middle" font-weight="normal" fill="#303030" >2500</text>
<line x1="707.5" y1="504" x2="707.5" y2="512" stroke="#bcbcbc" stroke-width="1.0" />
<text x="707.5" y="529" font-size="16" text-anchor="middle" font-weight="normal" fill="#303030" >3000</text>
<line x1="807" y1="504" x2="807" y2="512" stroke="#bcbcbc" stroke-width="1.0" />
<text x="807" y="529" font-size="16" text-anchor="middle" font-weight="normal" fill="#303030" >3500</text>
<line x1="906.5" y1="504" x2="906.5" y2="512" stroke="#bcbcbc" stroke-width="1.0" />
<text x="906.5" y="529" font-size="16" text-anchor="middle" font-weight="normal" fill="#303030" >4000</text>
<text transform="translate(56 454.5) rotate(-90)" font-size="16" font-weight="normal" text-anchor="middle" fill="#333" >Depth (m)</text>
<path d="M467.8 395 L477.8 395 L472.8 405 Z" fill="#000"/>
<text x="479.7" y="398.6" font-size="12.3" text-anchor="start" font-weight="normal" fill="#333" >Cracks</text>
<text x="720.5" y="459.4" font-size="16" font-weight="normal" text-anchor="middle" fill="#333" stroke="#fff" stroke-width="2.3" stroke-linejoin="round" paint-order="stroke" >Vertical displacements (cm)</text>
<rect x="583.5" y="467.3" width="20.6" height="16.5" fill="#ff0000"/>
<rect x="603.6" y="467.3" width="20.6" height="16.5" fill="#f41e0e"/>
<rect x="623.6" y="467.3" width="20.6" height="16.5" fill="#f64a12"/>
<rect x="643.7" y="467.3" width="20.6" height="16.5" fill="#f87a18"/>
<rect x="663.8" y="467.3" width="20.6" height="16.5" fill="#fba91e"/>
<rect x="683.9" y="467.3" width="20.6" height="16.5" fill="#ffe000"/>
<rect x="703.9" y="467.3" width="20.6" height="16.5" fill="#c8f032"/>
<rect x="724" y="467.3" width="20.6" height="16.5" fill="#8cec30"/>
<rect x="744.1" y="467.3" width="20.6" height="16.5" fill="#1ee01e"/>
<rect x="764.1" y="467.3" width="20.6" height="16.5" fill="#14a050"/>
<rect x="784.2" y="467.3" width="20.6" height="16.5" fill="#1e5ec0"/>
<rect x="804.3" y="467.3" width="20.6" height="16.5" fill="#0010f0"/>
<rect x="824.3" y="467.3" width="20.6" height="16.5" fill="#3a34ea"/>
<rect x="844.4" y="467.3" width="20.6" height="16.5" fill="#8466f0"/>
<text x="602.6" y="501.3" font-size="15" font-weight="bold" text-anchor="middle" fill="#111" stroke="#fff" stroke-width="2.3" stroke-linejoin="round" paint-order="stroke" >-24</text>
<text x="642.7" y="501.3" font-size="15" font-weight="bold" text-anchor="middle" fill="#111" stroke="#fff" stroke-width="2.3" stroke-linejoin="round" paint-order="stroke" >-20</text>
<text x="682.9" y="501.3" font-size="15" font-weight="bold" text-anchor="middle" fill="#111" stroke="#fff" stroke-width="2.3" stroke-linejoin="round" paint-order="stroke" >-16</text>
<text x="723" y="501.3" font-size="15" font-weight="bold" text-anchor="middle" fill="#111" stroke="#fff" stroke-width="2.3" stroke-linejoin="round" paint-order="stroke" >-12</text>
<text x="763.2" y="501.3" font-size="15" font-weight="bold" text-anchor="middle" fill="#111" stroke="#fff" stroke-width="2.3" stroke-linejoin="round" paint-order="stroke" >-8</text>
<text x="803.3" y="501.3" font-size="15" font-weight="bold" text-anchor="middle" fill="#111" stroke="#fff" stroke-width="2.3" stroke-linejoin="round" paint-order="stroke" >-4</text>
<text x="843.4" y="501.3" font-size="15" font-weight="bold" text-anchor="middle" fill="#111" stroke="#fff" stroke-width="2.3" stroke-linejoin="round" paint-order="stroke" >0</text>
<text x="925" y="499.5" font-size="27" text-anchor="start" font-weight="bold" fill="#000" >c</text>
<clipPath id="cp566"><rect x="110.2" y="566.5" width="795.5" height="99.5"/></clipPath>
<g clip-path="url(#cp566)"><use href="#hatch" transform="translate(110.2 566.5)"/></g>
<clipPath id="blkD"><path d="M110.2 566.5 L866.9 566.5 L866.9 584.2 L605.4 584.2 L605.4 592 L466.2 592 L461.2 636.1 L110.2 617.2 Z"/></clipPath>
<g clip-path="url(#blkD)">
<path d="M110 566h58v1h-58zM336 566h24v1h-24zM110 567h59v1h-59zM337 567h24v1h-24zM110 568h61v1h-61zM338 568h25v1h-25zM110 569h64v1h-64zM339 569h25v1h-25zM110 570h67v1h-67zM339 570h26v1h-26zM110 571h70v1h-70zM339 571h28v1h-28zM110 572h74v1h-74zM337 572h31v1h-31zM110 573h78v1h-78zM333 573h36v1h-36zM110 574h82v1h-82zM329 574h42v1h-42zM110 575h87v1h-87zM323 575h49v1h-49zM110 576h93v1h-93zM316 576h58v1h-58zM110 577h100v1h-100zM307 577h69v1h-69zM110 578h127v1h-127zM292 578h85v1h-85zM110 579h163v1h-163zM274 579h105v1h-105zM110 580h271v1h-271zM110 581h273v1h-273zM110 582h275v1h-275zM110 583h278v1h-278zM110 584h280v1h-280zM110 585h283v1h-283zM110 586h287v1h-287zM110 587h291v1h-291zM110 588h296v1h-296zM680 588h187v1h-187zM110 589h300v1h-300zM666 589h202v1h-202zM110 590h306v1h-306zM657 590h211v1h-211zM110 591h314v1h-314zM573 591h23v1h-23zM655 591h213v1h-213zM110 592h321v1h-321zM562 592h48v1h-48zM653 592h215v1h-215zM110 593h327v1h-327zM552 593h64v1h-64zM649 593h219v1h-219zM110 594h334v1h-334zM548 594h74v1h-74zM645 594h223v1h-223zM110 595h341v1h-341zM544 595h87v1h-87zM641 595h227v1h-227zM110 596h348v1h-348zM538 596h330v1h-330zM110 597h355v1h-355zM534 597h334v1h-334zM110 598h362v1h-362zM530 598h338v1h-338zM110 599h368v1h-368zM525 599h343v1h-343zM110 600h375v1h-375zM520 600h348v1h-348zM110 601h382v1h-382zM515 601h353v1h-353zM110 602h310v1h-310zM436 602h432v1h-432zM110 603h302v1h-302zM445 603h423v1h-423zM110 604h298v1h-298zM450 604h418v1h-418zM110 605h294v1h-294zM454 605h414v1h-414zM110 606h292v1h-292zM457 606h411v1h-411zM110 607h289v1h-289zM460 607h408v1h-408zM110 608h288v1h-288zM462 608h406v1h-406zM110 609h286v1h-286zM463 609h405v1h-405zM110 610h285v1h-285zM465 610h403v1h-403zM110 611h284v1h-284zM466 611h402v1h-402zM110 612h283v1h-283zM467 612h401v1h-401zM110 613h283v1h-283zM468 613h400v1h-400zM110 614h282v1h-282zM468 614h400v1h-400zM110 615h282v1h-282zM469 615h399v1h-399zM110 616h282v1h-282zM469 616h399v1h-399zM110 617h282v1h-282zM469 617h399v1h-399zM110 618h282v1h-282zM468 618h400v1h-400zM110 619h283v1h-283zM468 619h400v1h-400zM110 620h284v1h-284zM467 620h401v1h-401zM110 621h284v1h-284zM466 621h402v1h-402zM110 622h286v1h-286zM465 622h403v1h-403zM110 623h287v1h-287zM464 623h404v1h-404zM110 624h289v1h-289zM462 624h406v1h-406zM110 625h291v1h-291zM460 625h408v1h-408zM110 626h293v1h-293zM458 626h410v1h-410zM110 627h296v1h-296zM455 627h413v1h-413zM110 628h299v1h-299zM451 628h417v1h-417zM110 629h304v1h-304zM447 629h421v1h-421zM110 630h311v1h-311zM439 630h429v1h-429zM110 631h758v1h-758zM110 632h758v1h-758zM110 633h758v1h-758zM110 634h758v1h-758zM110 635h758v1h-758zM110 636h758v1h-758zM110 637h758v1h-758z" fill="#2a1ef0"/>
<path d="M168 566h168v1h-168zM169 567h168v1h-168zM171 568h167v1h-167zM174 569h165v1h-165zM177 570h162v1h-162zM180 571h159v1h-159zM184 572h153v1h-153zM188 573h145v1h-145zM192 574h137v1h-137zM197 575h126v1h-126zM203 576h113v1h-113zM210 577h97v1h-97zM237 578h55v1h-55zM273 579h1v1h-1zM420 602h16v1h-16zM412 603h33v1h-33zM408 604h42v1h-42zM404 605h50v1h-50zM402 606h55v1h-55zM399 607h61v1h-61zM398 608h64v1h-64zM396 609h67v1h-67zM395 610h70v1h-70zM394 611h72v1h-72zM393 612h74v1h-74zM393 613h75v1h-75zM392 614h76v1h-76zM392 615h77v1h-77zM392 616h77v1h-77zM392 617h77v1h-77zM392 618h76v1h-76zM393 619h75v1h-75zM394 620h73v1h-73zM394 621h72v1h-72zM396 622h69v1h-69zM397 623h67v1h-67zM399 624h63v1h-63zM401 625h59v1h-59zM403 626h55v1h-55zM406 627h49v1h-49zM409 628h42v1h-42zM414 629h33v1h-33zM421 630h18v1h-18z" fill="#6040f0"/>
<path d="M360 566h13v1h-13zM361 567h13v1h-13zM363 568h13v1h-13zM789 568h52v1h-52zM364 569h14v1h-14zM702 569h140v1h-140zM365 570h15v1h-15zM662 570h182v1h-182zM367 571h15v1h-15zM658 571h189v1h-189zM368 572h16v1h-16zM654 572h195v1h-195zM369 573h17v1h-17zM648 573h203v1h-203zM371 574h18v1h-18zM641 574h213v1h-213zM372 575h19v1h-19zM640 575h217v1h-217zM374 576h19v1h-19zM561 576h8v1h-8zM639 576h221v1h-221zM376 577h20v1h-20zM557 577h21v1h-21zM639 577h223v1h-223zM377 578h22v1h-22zM551 578h38v1h-38zM638 578h227v1h-227zM379 579h23v1h-23zM545 579h50v1h-50zM637 579h230v1h-230zM381 580h24v1h-24zM538 580h61v1h-61zM635 580h233v1h-233zM383 581h26v1h-26zM536 581h67v1h-67zM633 581h235v1h-235zM385 582h28v1h-28zM534 582h74v1h-74zM631 582h237v1h-237zM388 583h29v1h-29zM531 583h83v1h-83zM628 583h240v1h-240zM390 584h31v1h-31zM528 584h94v1h-94zM625 584h243v1h-243zM393 585h32v1h-32zM523 585h345v1h-345zM397 586h32v1h-32zM521 586h347v1h-347zM401 587h33v1h-33zM519 587h349v1h-349zM406 588h34v1h-34zM516 588h164v1h-164zM867 588h1v1h-1zM410 589h37v1h-37zM512 589h154v1h-154zM416 590h38v1h-38zM509 590h148v1h-148zM424 591h39v1h-39zM506 591h67v1h-67zM596 591h59v1h-59zM431 592h40v1h-40zM503 592h59v1h-59zM610 592h43v1h-43zM437 593h45v1h-45zM496 593h56v1h-56zM616 593h33v1h-33zM444 594h104v1h-104zM622 594h23v1h-23zM451 595h93v1h-93zM631 595h10v1h-10zM458 596h80v1h-80zM465 597h69v1h-69zM472 598h58v1h-58zM478 599h47v1h-47zM485 600h35v1h-35zM492 601h23v1h-23z" fill="#1010f0"/>
<path d="M373 566h11v1h-11zM540 566h31v1h-31zM624 566h226v1h-226zM374 567h11v1h-11zM540 567h33v1h-33zM625 567h226v1h-226zM376 568h11v1h-11zM540 568h37v1h-37zM626 568h163v1h-163zM841 568h12v1h-12zM378 569h10v1h-10zM538 569h43v1h-43zM626 569h76v1h-76zM842 569h12v1h-12zM380 570h10v1h-10zM536 570h47v1h-47zM627 570h35v1h-35zM844 570h12v1h-12zM382 571h10v1h-10zM534 571h52v1h-52zM627 571h31v1h-31zM847 571h11v1h-11zM384 572h11v1h-11zM530 572h58v1h-58zM626 572h28v1h-28zM849 572h11v1h-11zM386 573h11v1h-11zM528 573h63v1h-63zM626 573h22v1h-22zM851 573h11v1h-11zM389 574h11v1h-11zM527 574h68v1h-68zM625 574h16v1h-16zM854 574h10v1h-10zM391 575h12v1h-12zM527 575h71v1h-71zM624 575h16v1h-16zM857 575h10v1h-10zM393 576h13v1h-13zM525 576h36v1h-36zM569 576h33v1h-33zM622 576h17v1h-17zM860 576h8v1h-8zM396 577h14v1h-14zM524 577h33v1h-33zM578 577h29v1h-29zM621 577h18v1h-18zM862 577h6v1h-6zM399 578h14v1h-14zM521 578h30v1h-30zM589 578h24v1h-24zM619 578h19v1h-19zM865 578h3v1h-3zM402 579h14v1h-14zM519 579h26v1h-26zM595 579h42v1h-42zM867 579h1v1h-1zM405 580h14v1h-14zM516 580h22v1h-22zM599 580h36v1h-36zM409 581h14v1h-14zM515 581h21v1h-21zM603 581h30v1h-30zM413 582h14v1h-14zM513 582h21v1h-21zM608 582h23v1h-23zM417 583h15v1h-15zM511 583h20v1h-20zM614 583h14v1h-14zM421 584h16v1h-16zM508 584h20v1h-20zM622 584h3v1h-3zM425 585h18v1h-18zM505 585h18v1h-18zM429 586h21v1h-21zM503 586h18v1h-18zM434 587h23v1h-23zM500 587h19v1h-19zM440 588h25v1h-25zM497 588h19v1h-19zM447 589h28v1h-28zM492 589h20v1h-20zM454 590h55v1h-55zM463 591h43v1h-43zM471 592h32v1h-32zM482 593h14v1h-14z" fill="#1040e0"/>
<path d="M384 566h8v1h-8zM516 566h24v1h-24zM571 566h16v1h-16zM613 566h11v1h-11zM850 566h6v1h-6zM867 566h1v1h-1zM385 567h8v1h-8zM517 567h23v1h-23zM573 567h16v1h-16zM614 567h11v1h-11zM851 567h6v1h-6zM387 568h8v1h-8zM518 568h22v1h-22zM577 568h14v1h-14zM615 568h11v1h-11zM853 568h5v1h-5zM388 569h9v1h-9zM518 569h20v1h-20zM581 569h12v1h-12zM615 569h11v1h-11zM854 569h6v1h-6zM390 570h9v1h-9zM518 570h18v1h-18zM583 570h13v1h-13zM615 570h12v1h-12zM856 570h6v1h-6zM392 571h10v1h-10zM517 571h17v1h-17zM586 571h13v1h-13zM614 571h13v1h-13zM858 571h6v1h-6zM395 572h9v1h-9zM517 572h13v1h-13zM588 572h14v1h-14zM614 572h12v1h-12zM860 572h7v1h-7zM397 573h10v1h-10zM516 573h12v1h-12zM591 573h16v1h-16zM613 573h13v1h-13zM862 573h6v1h-6zM400 574h9v1h-9zM514 574h13v1h-13zM595 574h30v1h-30zM864 574h4v1h-4zM403 575h9v1h-9zM512 575h15v1h-15zM598 575h26v1h-26zM867 575h1v1h-1zM406 576h9v1h-9zM511 576h14v1h-14zM602 576h20v1h-20zM410 577h8v1h-8zM510 577h14v1h-14zM607 577h14v1h-14zM413 578h8v1h-8zM509 578h12v1h-12zM613 578h6v1h-6zM416 579h9v1h-9zM507 579h12v1h-12zM419 580h11v1h-11zM505 580h11v1h-11zM423 581h11v1h-11zM503 581h12v1h-12zM427 582h13v1h-13zM500 582h13v1h-13zM432 583h14v1h-14zM499 583h12v1h-12zM437 584h16v1h-16zM497 584h11v1h-11zM443 585h17v1h-17zM494 585h11v1h-11zM450 586h19v1h-19zM491 586h12v1h-12zM457 587h43v1h-43zM465 588h32v1h-32zM475 589h17v1h-17z" fill="#207080"/>
<path d="M392 566h7v1h-7zM506 566h10v1h-10zM587 566h12v1h-12zM603 566h10v1h-10zM856 566h5v1h-5zM865 566h2v1h-2zM393 567h7v1h-7zM507 567h10v1h-10zM589 567h12v1h-12zM604 567h10v1h-10zM857 567h5v1h-5zM866 567h2v1h-2zM395 568h7v1h-7zM507 568h11v1h-11zM591 568h13v1h-13zM605 568h10v1h-10zM858 568h6v1h-6zM867 568h1v1h-1zM397 569h7v1h-7zM507 569h11v1h-11zM593 569h22v1h-22zM860 569h6v1h-6zM867 569h1v1h-1zM399 570h6v1h-6zM507 570h11v1h-11zM596 570h19v1h-19zM862 570h6v1h-6zM402 571h6v1h-6zM506 571h11v1h-11zM599 571h15v1h-15zM864 571h4v1h-4zM404 572h6v1h-6zM506 572h11v1h-11zM602 572h12v1h-12zM867 572h1v1h-1zM407 573h6v1h-6zM505 573h11v1h-11zM607 573h6v1h-6zM409 574h6v1h-6zM505 574h9v1h-9zM412 575h7v1h-7zM504 575h8v1h-8zM415 576h7v1h-7zM503 576h8v1h-8zM418 577h8v1h-8zM502 577h8v1h-8zM421 578h9v1h-9zM500 578h9v1h-9zM425 579h10v1h-10zM498 579h9v1h-9zM430 580h10v1h-10zM496 580h9v1h-9zM434 581h12v1h-12zM495 581h8v1h-8zM440 582h13v1h-13zM493 582h7v1h-7zM446 583h14v1h-14zM491 583h8v1h-8zM453 584h15v1h-15zM487 584h10v1h-10zM460 585h34v1h-34zM469 586h22v1h-22z" fill="#20a050"/>
<path d="M399 566h4v1h-4zM498 566h8v1h-8zM599 566h4v1h-4zM861 566h4v1h-4zM400 567h5v1h-5zM499 567h8v1h-8zM601 567h3v1h-3zM862 567h4v1h-4zM402 568h4v1h-4zM500 568h7v1h-7zM604 568h1v1h-1zM864 568h3v1h-3zM404 569h4v1h-4zM500 569h7v1h-7zM866 569h1v1h-1zM405 570h6v1h-6zM500 570h7v1h-7zM408 571h5v1h-5zM500 571h6v1h-6zM410 572h6v1h-6zM500 572h6v1h-6zM413 573h6v1h-6zM499 573h6v1h-6zM415 574h7v1h-7zM499 574h6v1h-6zM419 575h6v1h-6zM497 575h7v1h-7zM422 576h7v1h-7zM496 576h7v1h-7zM426 577h8v1h-8zM494 577h8v1h-8zM430 578h9v1h-9zM493 578h7v1h-7zM435 579h9v1h-9zM492 579h6v1h-6zM440 580h10v1h-10zM491 580h5v1h-5zM446 581h11v1h-11zM489 581h6v1h-6zM453 582h11v1h-11zM485 582h8v1h-8zM460 583h31v1h-31zM468 584h19v1h-19z" fill="#30e020"/>
<path d="M403 566h5v1h-5zM493 566h5v1h-5zM405 567h4v1h-4zM494 567h5v1h-5zM406 568h5v1h-5zM495 568h5v1h-5zM408 569h5v1h-5zM495 569h5v1h-5zM411 570h5v1h-5zM495 570h5v1h-5zM413 571h5v1h-5zM495 571h5v1h-5zM416 572h5v1h-5zM494 572h6v1h-6zM419 573h6v1h-6zM493 573h6v1h-6zM422 574h6v1h-6zM492 574h7v1h-7zM425 575h7v1h-7zM491 575h6v1h-6zM429 576h8v1h-8zM491 576h5v1h-5zM434 577h8v1h-8zM490 577h4v1h-4zM439 578h8v1h-8zM489 578h4v1h-4zM444 579h9v1h-9zM487 579h5v1h-5zM450 580h10v1h-10zM485 580h6v1h-6zM457 581h13v1h-13zM478 581h11v1h-11zM464 582h21v1h-21z" fill="#90f030"/>
<path d="M408 566h5v1h-5zM489 566h4v1h-4zM409 567h5v1h-5zM489 567h5v1h-5zM411 568h5v1h-5zM490 568h5v1h-5zM413 569h5v1h-5zM490 569h5v1h-5zM416 570h5v1h-5zM490 570h5v1h-5zM418 571h6v1h-6zM489 571h6v1h-6zM421 572h6v1h-6zM489 572h5v1h-5zM425 573h6v1h-6zM489 573h4v1h-4zM428 574h7v1h-7zM488 574h4v1h-4zM432 575h7v1h-7zM488 575h3v1h-3zM437 576h7v1h-7zM487 576h4v1h-4zM442 577h7v1h-7zM485 577h5v1h-5zM447 578h8v1h-8zM484 578h5v1h-5zM453 579h9v1h-9zM480 579h7v1h-7zM460 580h25v1h-25zM470 581h8v1h-8z" fill="#c0f030"/>
<path d="M413 566h4v1h-4zM484 566h5v1h-5zM414 567h5v1h-5zM485 567h4v1h-4zM416 568h5v1h-5zM485 568h5v1h-5zM418 569h5v1h-5zM485 569h5v1h-5zM421 570h5v1h-5zM486 570h4v1h-4zM424 571h5v1h-5zM486 571h3v1h-3zM427 572h6v1h-6zM486 572h3v1h-3zM431 573h6v1h-6zM485 573h4v1h-4zM435 574h6v1h-6zM485 574h3v1h-3zM439 575h7v1h-7zM484 575h4v1h-4zM444 576h7v1h-7zM483 576h4v1h-4zM449 577h8v1h-8zM481 577h4v1h-4zM455 578h11v1h-11zM475 578h9v1h-9zM462 579h18v1h-18z" fill="#e8f020"/>
<path d="M417 566h5v1h-5zM480 566h4v1h-4zM419 567h5v1h-5zM481 567h4v1h-4zM421 568h5v1h-5zM482 568h3v1h-3zM423 569h5v1h-5zM482 569h3v1h-3zM426 570h5v1h-5zM483 570h3v1h-3zM429 571h5v1h-5zM483 571h3v1h-3zM433 572h5v1h-5zM482 572h4v1h-4zM437 573h5v1h-5zM482 573h3v1h-3zM441 574h6v1h-6zM481 574h4v1h-4zM446 575h6v1h-6zM480 575h4v1h-4zM451 576h7v1h-7zM477 576h6v1h-6zM457 577h11v1h-11zM472 577h9v1h-9zM466 578h9v1h-9z" fill="#ffe000"/>
<path d="M422 566h5v1h-5zM478 566h2v1h-2zM424 567h4v1h-4zM479 567h2v1h-2zM426 568h5v1h-5zM479 568h3v1h-3zM428 569h5v1h-5zM480 569h2v1h-2zM431 570h5v1h-5zM480 570h3v1h-3zM434 571h6v1h-6zM480 571h3v1h-3zM438 572h6v1h-6zM479 572h3v1h-3zM442 573h6v1h-6zM479 573h3v1h-3zM447 574h6v1h-6zM478 574h3v1h-3zM452 575h8v1h-8zM474 575h6v1h-6zM458 576h19v1h-19zM468 577h4v1h-4z" fill="#fcb020"/>
<path d="M427 566h4v1h-4zM475 566h3v1h-3zM428 567h5v1h-5zM476 567h3v1h-3zM431 568h4v1h-4zM477 568h2v1h-2zM433 569h5v1h-5zM477 569h3v1h-3zM436 570h5v1h-5zM477 570h3v1h-3zM440 571h5v1h-5zM477 571h3v1h-3zM444 572h5v1h-5zM476 572h3v1h-3zM448 573h6v1h-6zM474 573h5v1h-5zM453 574h8v1h-8zM470 574h8v1h-8zM460 575h14v1h-14z" fill="#f89010"/>
<path d="M431 566h5v1h-5zM472 566h3v1h-3zM433 567h4v1h-4zM473 567h3v1h-3zM435 568h5v1h-5zM474 568h3v1h-3zM438 569h5v1h-5zM474 569h3v1h-3zM441 570h5v1h-5zM474 570h3v1h-3zM445 571h5v1h-5zM474 571h3v1h-3zM449 572h6v1h-6zM471 572h5v1h-5zM454 573h9v1h-9zM467 573h7v1h-7zM461 574h9v1h-9z" fill="#f87010"/>
<path d="M436 566h4v1h-4zM470 566h2v1h-2zM437 567h5v1h-5zM471 567h2v1h-2zM440 568h4v1h-4zM471 568h3v1h-3zM443 569h4v1h-4zM471 569h3v1h-3zM446 570h5v1h-5zM470 570h4v1h-4zM450 571h7v1h-7zM467 571h7v1h-7zM455 572h16v1h-16zM463 573h4v1h-4z" fill="#f05010"/>
<path d="M440 566h5v1h-5zM467 566h3v1h-3zM442 567h4v1h-4zM467 567h4v1h-4zM444 568h5v1h-5zM467 568h4v1h-4zM447 569h6v1h-6zM466 569h5v1h-5zM451 570h8v1h-8zM464 570h6v1h-6zM457 571h10v1h-10z" fill="#f03010"/>
<path d="M445 566h6v1h-6zM461 566h6v1h-6zM446 567h7v1h-7zM462 567h5v1h-5zM449 568h8v1h-8zM461 568h6v1h-6zM453 569h13v1h-13zM459 570h5v1h-5z" fill="#f01010"/>
<path d="M451 566h10v1h-10zM453 567h9v1h-9zM457 568h4v1h-4z" fill="#ff0000"/>
<pattern id="arrD" x="112.5" y="566.5" width="8.03" height="10.5" patternUnits="userSpaceOnUse"><rect x="1.8" y="0" width="1" height="6" fill="#fff" fill-opacity="0.6"/><path d="M0 4.6 L4.6 4.6 L2.3 8.6 Z" fill="#fff" fill-opacity="0.8"/></pattern>
<pattern id="arrD2" x="112.5" y="566.5" width="8.03" height="10.5" patternUnits="userSpaceOnUse"><rect x="1.8" y="3" width="1" height="3" fill="#fff" fill-opacity="0.5"/><path d="M0.6 5.2 L4 5.2 L2.3 8.4 Z" fill="#fff" fill-opacity="0.7"/></pattern>
<rect x="110.2" y="566.5" width="800" height="31.5" fill="url(#arrD)"/>
<rect x="110.2" y="598" width="800" height="42" fill="url(#arrD2)"/>
</g>
<line x1="110.2" y1="566.5" x2="110.2" y2="674" stroke="#bcbcbc" stroke-width="1.1" />
<line x1="102.2" y1="566.5" x2="110.2" y2="566.5" stroke="#bcbcbc" stroke-width="1.1" />
<text x="99.2" y="572.3" font-size="16" text-anchor="end" font-weight="normal" fill="#303030" >0</text>
<line x1="102.2" y1="606.3" x2="110.2" y2="606.3" stroke="#bcbcbc" stroke-width="1.1" />
<text x="99.2" y="612.1" font-size="16" text-anchor="end" font-weight="normal" fill="#303030" >-200</text>
<line x1="102.2" y1="646.1" x2="110.2" y2="646.1" stroke="#bcbcbc" stroke-width="1.1" />
<text x="99.2" y="651.9" font-size="16" text-anchor="end" font-weight="normal" fill="#303030" >-400</text>
<line x1="905.7" y1="566.5" x2="905.7" y2="674" stroke="#bcbcbc" stroke-width="1.1" />
<line x1="905.7" y1="566.5" x2="915.7" y2="566.5" stroke="#bcbcbc" stroke-width="1.1" />
<line x1="905.7" y1="606.3" x2="915.7" y2="606.3" stroke="#bcbcbc" stroke-width="1.1" />
<line x1="905.7" y1="646.1" x2="915.7" y2="646.1" stroke="#bcbcbc" stroke-width="1.1" />
<line x1="103.2" y1="666" x2="905.7" y2="666" stroke="#bcbcbc" stroke-width="1.1" />
<line x1="110.2" y1="666" x2="110.2" y2="674" stroke="#bcbcbc" stroke-width="1.0" />
<text x="110.2" y="691.5" font-size="16" text-anchor="middle" font-weight="normal" fill="#303030" >0</text>
<line x1="209.6" y1="666" x2="209.6" y2="674" stroke="#bcbcbc" stroke-width="1.0" />
<text x="209.6" y="691.5" font-size="16" text-anchor="middle" font-weight="normal" fill="#303030" >500</text>
<line x1="309.1" y1="666" x2="309.1" y2="674" stroke="#bcbcbc" stroke-width="1.0" />
<text x="309.1" y="691.5" font-size="16" text-anchor="middle" font-weight="normal" fill="#303030" >1000</text>
<line x1="408.5" y1="666" x2="408.5" y2="674" stroke="#bcbcbc" stroke-width="1.0" />
<text x="408.5" y="691.5" font-size="16" text-anchor="middle" font-weight="normal" fill="#303030" >1500</text>
<line x1="507.9" y1="666" x2="507.9" y2="674" stroke="#bcbcbc" stroke-width="1.0" />
<text x="507.9" y="691.5" font-size="16" text-anchor="middle" font-weight="normal" fill="#303030" >2000</text>
<line x1="607.4" y1="666" x2="607.4" y2="674" stroke="#bcbcbc" stroke-width="1.0" />
<text x="607.4" y="691.5" font-size="16" text-anchor="middle" font-weight="normal" fill="#303030" >2500</text>
<line x1="706.8" y1="666" x2="706.8" y2="674" stroke="#bcbcbc" stroke-width="1.0" />
<text x="706.8" y="691.5" font-size="16" text-anchor="middle" font-weight="normal" fill="#303030" >3000</text>
<line x1="806.3" y1="666" x2="806.3" y2="674" stroke="#bcbcbc" stroke-width="1.0" />
<text x="806.3" y="691.5" font-size="16" text-anchor="middle" font-weight="normal" fill="#303030" >3500</text>
<line x1="905.7" y1="666" x2="905.7" y2="674" stroke="#bcbcbc" stroke-width="1.0" />
<text x="905.7" y="691.5" font-size="16" text-anchor="middle" font-weight="normal" fill="#303030" >4000</text>
<text transform="translate(55.8 616.2) rotate(-90)" font-size="16" font-weight="normal" text-anchor="middle" fill="#333" >Depth (m)</text>
<path d="M469.2 557 L479.2 557 L474.2 567 Z" fill="#000"/>
<text x="485.6" y="557.5" font-size="12.3" text-anchor="start" font-weight="normal" fill="#333" >Cracks</text>
<text x="716.8" y="619.2" font-size="16" font-weight="normal" text-anchor="middle" fill="#333" stroke="#fff" stroke-width="2.3" stroke-linejoin="round" paint-order="stroke" >Horizontal displacements (cm)</text>
<rect x="578.2" y="626.4" width="15.5" height="17.6" fill="#ff0000"/>
<rect x="593.2" y="626.4" width="15.5" height="17.6" fill="#f01010"/>
<rect x="608.2" y="626.4" width="15.5" height="17.6" fill="#f03010"/>
<rect x="623.2" y="626.4" width="15.5" height="17.6" fill="#f05010"/>
<rect x="638.2" y="626.4" width="15.5" height="17.6" fill="#f87010"/>
<rect x="653.2" y="626.4" width="15.5" height="17.6" fill="#f89010"/>
<rect x="668.2" y="626.4" width="15.5" height="17.6" fill="#fcb020"/>
<rect x="683.2" y="626.4" width="15.5" height="17.6" fill="#ffe000"/>
<rect x="698.2" y="626.4" width="15.5" height="17.6" fill="#e8f020"/>
<rect x="713.2" y="626.4" width="15.5" height="17.6" fill="#c0f030"/>
<rect x="728.2" y="626.4" width="15.5" height="17.6" fill="#90f030"/>
<rect x="743.2" y="626.4" width="15.5" height="17.6" fill="#30e020"/>
<rect x="758.2" y="626.4" width="15.5" height="17.6" fill="#20a050"/>
<rect x="773.2" y="626.4" width="15.5" height="17.6" fill="#207080"/>
<rect x="788.2" y="626.4" width="15.5" height="17.6" fill="#1040e0"/>
<rect x="803.2" y="626.4" width="15.5" height="17.6" fill="#1010f0"/>
<rect x="818.2" y="626.4" width="15.5" height="17.6" fill="#2a1ef0"/>
<rect x="833.2" y="626.4" width="15.5" height="17.6" fill="#6040f0"/>
<rect x="848.2" y="626.4" width="15.5" height="17.6" fill="#9070f0"/>
<text x="594.2" y="661.5" font-size="14" font-weight="bold" text-anchor="middle" fill="#111" stroke="#fff" stroke-width="2.3" stroke-linejoin="round" paint-order="stroke" >-5,6</text>
<text x="624.2" y="661.5" font-size="14" font-weight="bold" text-anchor="middle" fill="#111" stroke="#fff" stroke-width="2.3" stroke-linejoin="round" paint-order="stroke" >-4,8</text>
<text x="654.2" y="661.5" font-size="14" font-weight="bold" text-anchor="middle" fill="#111" stroke="#fff" stroke-width="2.3" stroke-linejoin="round" paint-order="stroke" >-4</text>
<text x="684.2" y="661.5" font-size="14" font-weight="bold" text-anchor="middle" fill="#111" stroke="#fff" stroke-width="2.3" stroke-linejoin="round" paint-order="stroke" >-3,2</text>
<text x="714.2" y="661.5" font-size="14" font-weight="bold" text-anchor="middle" fill="#111" stroke="#fff" stroke-width="2.3" stroke-linejoin="round" paint-order="stroke" >-2,4</text>
<text x="744.2" y="661.5" font-size="14" font-weight="bold" text-anchor="middle" fill="#111" stroke="#fff" stroke-width="2.3" stroke-linejoin="round" paint-order="stroke" >-1,6</text>
<text x="774.2" y="661.5" font-size="14" font-weight="bold" text-anchor="middle" fill="#111" stroke="#fff" stroke-width="2.3" stroke-linejoin="round" paint-order="stroke" >-0,8</text>
<text x="804.2" y="661.5" font-size="14" font-weight="bold" text-anchor="middle" fill="#111" stroke="#fff" stroke-width="2.3" stroke-linejoin="round" paint-order="stroke" >0</text>
<text x="834.2" y="661.5" font-size="14" font-weight="bold" text-anchor="middle" fill="#111" stroke="#fff" stroke-width="2.3" stroke-linejoin="round" paint-order="stroke" >0,8</text>
<text x="923" y="660.2" font-size="27" text-anchor="start" font-weight="bold" fill="#000" >d</text>
<clipPath id="cp1113"><rect x="112.9" y="1113.6" width="795" height="99.1"/></clipPath>
<g clip-path="url(#cp1113)"><use href="#hatch" transform="translate(112.9 1113.6)"/></g>
<clipPath id="blkG"><path d="M112.9 1113.6 L869.1 1113.6 L869.1 1131.2 L607.8 1131.2 L607.8 1139 L468.7 1139 L463.7 1183 L112.9 1164.1 Z"/></clipPath>
<g clip-path="url(#blkG)">
<rect x="112.9" y="1113.6" width="800" height="100" fill="#e8fc00"/>
<path d="M254.5 1113 L254.5 1113.9 C255 1125 256 1135 259.9 1142.5 C263 1149 266 1152 268.1 1154.2 C275 1159 280 1162 286.9 1163.6 C295 1166 302 1168 310.3 1168.3 C318 1169.5 324 1170 329.1 1169.4 C335 1168.5 338 1167.5 340.8 1165.9 C346 1162 349 1159 352.5 1156.6 C358 1153 362 1151 368.9 1149.5 C376 1147 384 1145.5 392.3 1144.8 C405 1144 418 1143.5 427.5 1143.7 C433 1144 437 1144.5 439.2 1146 C442 1148 443 1150 443.9 1151.9 C445 1156 445.5 1161 446.2 1165.9 C447.5 1171 449 1175 450.9 1177.7 C455 1181 458 1183 462.6 1184 L475 1184 L475 1113 Z" fill="#ffc000" stroke="#c89a20" stroke-width="0.4"/>
<ellipse cx="414" cy="1111" rx="44" ry="20" fill="#f87010"/>
<ellipse cx="422" cy="1111" rx="30" ry="14" fill="#f84010"/>
<ellipse cx="425" cy="1111" rx="21" ry="8" fill="#ff1010"/>
<ellipse cx="428" cy="1112" rx="9" ry="2.5" fill="#ff6a40"/>
<ellipse cx="468" cy="1166" rx="19" ry="21" fill="#f87010"/>
<ellipse cx="468" cy="1166" rx="13" ry="17" fill="#f84010"/>
<ellipse cx="469" cy="1166" rx="8" ry="13" fill="#ff1010"/>
<path d="M455 1113 L462 1113 L464 1150 L457 1148 Z" fill="#f0c000"/>
<path d="M459 1113 L519 1113 C512 1121 500 1127 488 1132 C480 1135 474 1138 470 1140 L460 1140 Z" fill="#90f030"/>
<path d="M462 1113 L511 1113 C504 1119 495 1124 485 1129 C478 1132 473 1136 470 1139 L463 1139 Z" fill="#20e030"/>
<path d="M467 1113 L492 1113 C487 1116 481 1119 477 1123 C474 1127 472.5 1132 471.5 1139 L468 1139 Z" fill="#208080"/>
<ellipse cx="478" cy="1114" rx="12" ry="4.5" fill="#0000f0"/>
<ellipse cx="472.5" cy="1132" rx="2.8" ry="3.5" fill="#1030b0"/>
<path d="M558 1113 C559 1118 562 1124 575 1126 C590 1128 600 1129 604 1133 L607 1139 L607 1113 Z" fill="#ffc000"/>
<ellipse cx="592" cy="1113" rx="10" ry="4" fill="#f87010"/>
<path d="M606.8 1113 L629 1113 C622 1118 612 1122 609 1131 L607 1131 Z" fill="#80f030"/>
<path d="M756.4 1113 L871 1113 L871 1118 L849.4 1119 C845 1119.5 841 1120.5 838.5 1122 C834 1124 830 1127 827.5 1132 L756.4 1132 Z" fill="#ffc000"/>
<ellipse cx="866.5" cy="1125" rx="3.5" ry="6" fill="#f03010"/>
<ellipse cx="867" cy="1115" rx="3" ry="2.5" fill="#30c040"/>
<ellipse cx="856" cy="1114" rx="10" ry="2.2" fill="#f07020"/>
</g>
<line x1="112.9" y1="1113.6" x2="112.9" y2="1220.7" stroke="#bcbcbc" stroke-width="1.1" />
<line x1="104.9" y1="1113.6" x2="112.9" y2="1113.6" stroke="#bcbcbc" stroke-width="1.1" />
<text x="101.9" y="1119.4" font-size="16" text-anchor="end" font-weight="normal" fill="#303030" >0</text>
<line x1="104.9" y1="1153.2" x2="112.9" y2="1153.2" stroke="#bcbcbc" stroke-width="1.1" />
<text x="101.9" y="1159" font-size="16" text-anchor="end" font-weight="normal" fill="#303030" >-200</text>
<line x1="104.9" y1="1192.9" x2="112.9" y2="1192.9" stroke="#bcbcbc" stroke-width="1.1" />
<text x="101.9" y="1198.7" font-size="16" text-anchor="end" font-weight="normal" fill="#303030" >-400</text>
<line x1="907.9" y1="1113.6" x2="907.9" y2="1220.7" stroke="#bcbcbc" stroke-width="1.1" />
<line x1="907.9" y1="1113.6" x2="917.9" y2="1113.6" stroke="#bcbcbc" stroke-width="1.1" />
<line x1="907.9" y1="1153.2" x2="917.9" y2="1153.2" stroke="#bcbcbc" stroke-width="1.1" />
<line x1="907.9" y1="1192.9" x2="917.9" y2="1192.9" stroke="#bcbcbc" stroke-width="1.1" />
<line x1="105.9" y1="1212.7" x2="907.9" y2="1212.7" stroke="#bcbcbc" stroke-width="1.1" />
<line x1="112.9" y1="1212.7" x2="112.9" y2="1220.7" stroke="#bcbcbc" stroke-width="1.0" />
<text x="112.9" y="1238.5" font-size="16" text-anchor="middle" font-weight="normal" fill="#303030" >0</text>
<line x1="212.3" y1="1212.7" x2="212.3" y2="1220.7" stroke="#bcbcbc" stroke-width="1.0" />
<text x="212.3" y="1238.5" font-size="16" text-anchor="middle" font-weight="normal" fill="#303030" >500</text>
<line x1="311.6" y1="1212.7" x2="311.6" y2="1220.7" stroke="#bcbcbc" stroke-width="1.0" />
<text x="311.6" y="1238.5" font-size="16" text-anchor="middle" font-weight="normal" fill="#303030" >1000</text>
<line x1="411" y1="1212.7" x2="411" y2="1220.7" stroke="#bcbcbc" stroke-width="1.0" />
<text x="411" y="1238.5" font-size="16" text-anchor="middle" font-weight="normal" fill="#303030" >1500</text>
<line x1="510.4" y1="1212.7" x2="510.4" y2="1220.7" stroke="#bcbcbc" stroke-width="1.0" />
<text x="510.4" y="1238.5" font-size="16" text-anchor="middle" font-weight="normal" fill="#303030" >2000</text>
<line x1="609.8" y1="1212.7" x2="609.8" y2="1220.7" stroke="#bcbcbc" stroke-width="1.0" />
<text x="609.8" y="1238.5" font-size="16" text-anchor="middle" font-weight="normal" fill="#303030" >2500</text>
<line x1="709.1" y1="1212.7" x2="709.1" y2="1220.7" stroke="#bcbcbc" stroke-width="1.0" />
<text x="709.1" y="1238.5" font-size="16" text-anchor="middle" font-weight="normal" fill="#303030" >3000</text>
<line x1="808.5" y1="1212.7" x2="808.5" y2="1220.7" stroke="#bcbcbc" stroke-width="1.0" />
<text x="808.5" y="1238.5" font-size="16" text-anchor="middle" font-weight="normal" fill="#303030" >3500</text>
<line x1="907.9" y1="1212.7" x2="907.9" y2="1220.7" stroke="#bcbcbc" stroke-width="1.0" />
<text x="907.9" y="1238.5" font-size="16" text-anchor="middle" font-weight="normal" fill="#303030" >4000</text>
<text transform="translate(58 1163.2) rotate(-90)" font-size="16" font-weight="normal" text-anchor="middle" fill="#333" >Depth (m)</text>
<path d="M473.3 1104 L483.3 1104 L478.3 1114 Z" fill="#000"/>
<text x="487.2" y="1104.5" font-size="12.3" text-anchor="start" font-weight="normal" fill="#333" >Cracks</text>
<text x="722.5" y="1156.2" font-size="16" font-weight="normal" text-anchor="middle" fill="#333" stroke="#fff" stroke-width="2.3" stroke-linejoin="round" paint-order="stroke" >Horizontal strain (%) (positive = tensile)</text>
<rect x="567.8" y="1160.4" width="28.2" height="18.6" fill="#ff1010"/>
<rect x="595.5" y="1160.4" width="28.2" height="18.6" fill="#f84010"/>
<rect x="623.2" y="1160.4" width="28.2" height="18.6" fill="#f87010"/>
<rect x="650.9" y="1160.4" width="28.2" height="18.6" fill="#ffb810"/>
<rect x="678.6" y="1160.4" width="28.2" height="18.6" fill="#e8ff00"/>
<rect x="706.3" y="1160.4" width="28.2" height="18.6" fill="#90f030"/>
<rect x="734" y="1160.4" width="28.2" height="18.6" fill="#20e030"/>
<rect x="761.7" y="1160.4" width="28.2" height="18.6" fill="#208080"/>
<rect x="789.4" y="1160.4" width="28.2" height="18.6" fill="#0000f0"/>
<rect x="817.1" y="1160.4" width="28.2" height="18.6" fill="#4040f0"/>
<rect x="844.8" y="1160.4" width="28.2" height="18.6" fill="#8a6af0"/>
<text x="569.8" y="1199" font-size="14" font-weight="bold" text-anchor="middle" fill="#111" stroke="#fff" stroke-width="2.3" stroke-linejoin="round" paint-order="stroke" transform="rotate(22 569.8 1199)">-0,02</text>
<text x="597.5" y="1199" font-size="14" font-weight="bold" text-anchor="middle" fill="#111" stroke="#fff" stroke-width="2.3" stroke-linejoin="round" paint-order="stroke" transform="rotate(22 597.5 1199)">-0,015</text>
<text x="625.2" y="1199" font-size="14" font-weight="bold" text-anchor="middle" fill="#111" stroke="#fff" stroke-width="2.3" stroke-linejoin="round" paint-order="stroke" transform="rotate(22 625.2 1199)">-0,01</text>
<text x="652.9" y="1199" font-size="14" font-weight="bold" text-anchor="middle" fill="#111" stroke="#fff" stroke-width="2.3" stroke-linejoin="round" paint-order="stroke" transform="rotate(22 652.9 1199)">-0,005</text>
<text x="680.6" y="1199" font-size="14" font-weight="bold" text-anchor="middle" fill="#111" stroke="#fff" stroke-width="2.3" stroke-linejoin="round" paint-order="stroke" transform="rotate(22 680.6 1199)">0</text>
<text x="708.3" y="1199" font-size="14" font-weight="bold" text-anchor="middle" fill="#111" stroke="#fff" stroke-width="2.3" stroke-linejoin="round" paint-order="stroke" transform="rotate(22 708.3 1199)">0,005</text>
<text x="736" y="1199" font-size="14" font-weight="bold" text-anchor="middle" fill="#111" stroke="#fff" stroke-width="2.3" stroke-linejoin="round" paint-order="stroke" transform="rotate(22 736 1199)">0,01</text>
<text x="763.7" y="1199" font-size="14" font-weight="bold" text-anchor="middle" fill="#111" stroke="#fff" stroke-width="2.3" stroke-linejoin="round" paint-order="stroke" transform="rotate(22 763.7 1199)">0,015</text>
<text x="791.4" y="1199" font-size="14" font-weight="bold" text-anchor="middle" fill="#111" stroke="#fff" stroke-width="2.3" stroke-linejoin="round" paint-order="stroke" transform="rotate(22 791.4 1199)">0,02</text>
<text x="819.1" y="1199" font-size="14" font-weight="bold" text-anchor="middle" fill="#111" stroke="#fff" stroke-width="2.3" stroke-linejoin="round" paint-order="stroke" transform="rotate(22 819.1 1199)">0,025</text>
<text x="846.8" y="1199" font-size="14" font-weight="bold" text-anchor="middle" fill="#111" stroke="#fff" stroke-width="2.3" stroke-linejoin="round" paint-order="stroke" transform="rotate(22 846.8 1199)">0,03</text>
<text x="923" y="1209" font-size="27" text-anchor="start" font-weight="bold" fill="#000" >g</text>
<text x="510" y="1264.5" font-size="16" text-anchor="middle" font-weight="normal" fill="#333" >Distance (m)</text>
</svg></body></html>
